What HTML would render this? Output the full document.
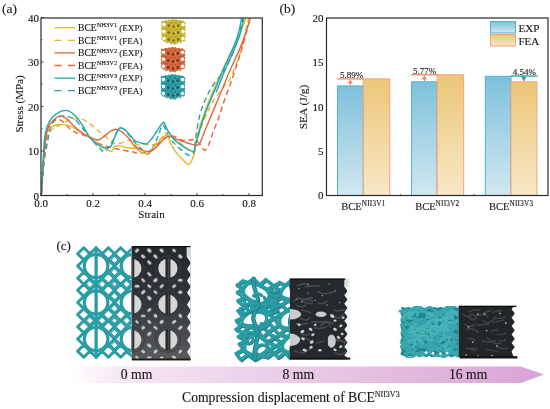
<!DOCTYPE html>
<html><head><meta charset="utf-8"><title>Figure</title>
<style>
html,body{margin:0;padding:0;background:#fff;}
body{width:550px;height:409px;overflow:hidden;}
svg{display:block}
text{font-family:"Liberation Serif", "DejaVu Serif", serif;fill:#161616;stroke:#161616;stroke-width:0.12px}
</style></head><body>
<svg width="550" height="409" viewBox="0 0 550 409">
<defs>
<linearGradient id="gexp" x1="0" y1="0" x2="0" y2="1"><stop offset="0" stop-color="#7ec0dc"/><stop offset="1" stop-color="#d2e8f1"/></linearGradient>
<linearGradient id="gfea" x1="0" y1="0" x2="0" y2="1"><stop offset="0" stop-color="#ecc678"/><stop offset="1" stop-color="#f8e8c8"/></linearGradient>
<linearGradient id="garrow" x1="0" y1="0" x2="1" y2="0"><stop offset="0" stop-color="#ffffff"/><stop offset="0.12" stop-color="#f6e6f3"/><stop offset="1" stop-color="#d9a3d6"/></linearGradient>
<clipPath id="clipA"><rect x="41.5" y="18" width="220.5" height="177.5"/></clipPath>
</defs>

<g id="panel-a">
<text x="2" y="13" font-size="13.5">(a)</text>
<g clip-path="url(#clipA)" fill="none" stroke-width="1.4" stroke-linejoin="round" stroke-linecap="butt">
<path d="M41.4,194.0C41.9,189.0 43.1,173.4 44.0,164.4C44.9,155.4 45.5,145.6 46.6,140.0C47.6,134.4 48.5,133.3 50.4,131.0C52.4,128.6 55.1,127.6 58.1,125.8C61.1,124.1 65.4,121.9 68.4,120.7C71.4,119.5 73.8,118.9 76.1,118.7C78.5,118.4 80.5,118.7 82.6,119.4C84.6,120.1 86.3,121.2 88.5,122.8C90.7,124.3 93.2,126.7 95.7,128.7C98.1,130.6 100.6,132.6 103.1,134.6C105.6,136.6 108.6,139.0 110.6,140.5C112.5,142.0 113.2,143.4 114.9,143.8C116.7,144.3 118.6,143.7 121.1,143.1C123.6,142.5 127.8,139.9 130.1,140.2C132.4,140.6 132.9,144.5 135.0,145.1C137.1,145.7 140.1,143.8 142.7,143.8C145.3,143.8 148.3,145.1 150.4,145.1C152.6,145.1 153.9,144.9 155.6,143.8C157.3,142.8 158.8,140.6 160.7,138.7C162.6,136.8 165.0,132.5 167.1,132.3C169.3,132.1 171.2,135.5 173.6,137.4C175.9,139.3 178.7,141.7 181.3,143.8C183.8,146.0 186.8,148.8 189.0,150.3C191.2,151.8 193.5,153.6 194.6,152.8C195.7,152.1 194.6,150.1 195.6,146.0C196.7,141.9 198.6,134.8 200.9,128.3C203.3,121.8 206.5,113.2 209.8,107.0C213.0,100.8 217.2,95.5 220.4,91.1C223.6,86.7 226.9,84.3 229.2,80.5C231.6,76.7 232.8,72.5 234.6,68.1C236.3,63.7 238.1,59.8 239.9,53.9C241.6,48.0 243.7,38.7 245.2,32.7C246.7,26.7 248.1,20.3 248.7,17.8" stroke="#e3b92a" stroke-dasharray="5.5 3.5"/>
<path d="M41.4,194.0C41.7,189.5 42.6,174.9 43.2,167.0C43.9,159.1 44.5,152.4 45.3,146.4C46.1,140.4 46.6,135.1 47.9,131.0C49.1,126.9 51.3,123.9 53.0,122.0C54.7,120.1 56.4,119.4 58.1,119.4C59.9,119.4 61.1,120.3 63.3,122.0C65.4,123.7 68.4,127.8 71.0,129.7C73.6,131.6 76.1,132.5 78.7,133.6C81.3,134.6 83.4,134.6 86.4,136.1C89.4,137.6 93.3,140.8 96.7,142.6C100.1,144.3 103.6,145.3 107.0,146.4C110.4,147.5 113.8,148.2 117.3,149.0C120.7,149.8 124.8,150.5 127.5,151.0C130.3,151.6 132.7,151.8 134.0,152.1C135.2,152.4 133.5,152.7 135.0,152.8C136.5,153.0 140.1,153.3 142.7,152.8C145.3,152.4 147.9,151.8 150.4,150.3C153.0,148.8 155.6,146.0 158.1,143.8C160.7,141.7 163.3,138.7 165.8,137.4C168.4,136.1 171.0,135.7 173.6,136.1C176.1,136.6 178.7,139.3 181.3,140.0C183.8,140.6 186.6,140.0 189.0,140.0C191.3,140.0 193.5,139.1 195.4,140.0C197.3,140.8 199.1,143.4 200.6,145.1C202.1,146.8 203.2,150.1 204.4,150.3C205.7,150.4 206.5,149.0 208.0,146.0C209.5,142.9 211.5,136.5 213.3,131.8C215.1,127.1 216.9,122.7 218.6,117.7C220.4,112.6 221.9,107.6 223.9,101.7C226.0,95.8 228.7,89.0 231.0,82.3C233.4,75.5 236.0,67.5 238.1,61.0C240.2,54.5 241.9,48.3 243.4,43.3C244.9,38.3 245.8,35.2 246.9,30.9C248.1,26.7 249.6,20.0 250.1,17.8" stroke="#e8643c" stroke-dasharray="5.5 3.5"/>
<path d="M41.4,194.0C41.9,188.6 42.9,170.8 44.0,161.8C45.1,152.8 46.8,145.6 47.9,140.0C48.9,134.4 49.4,131.6 50.4,128.4C51.5,125.2 52.8,122.6 54.3,120.7C55.8,118.8 57.7,117.6 59.4,116.9C61.1,116.1 62.0,115.7 64.6,116.1C67.1,116.5 71.8,117.4 74.8,119.4C77.8,121.5 80.6,126.1 82.6,128.4C84.5,130.8 84.7,131.4 86.4,133.6C88.1,135.7 90.7,138.9 92.8,141.3C95.0,143.6 97.3,145.9 99.3,147.7C101.2,149.5 102.9,152.1 104.4,152.1C105.9,152.1 107.0,149.3 108.3,147.7C109.6,146.1 110.6,145.3 112.1,142.6C113.6,139.8 115.5,133.3 117.3,131.0C119.0,128.6 120.5,127.8 122.4,128.4C124.3,129.1 126.9,132.7 128.8,134.8C130.8,137.0 132.9,140.0 134.0,141.3C135.0,142.6 133.5,141.1 135.0,142.6C136.5,144.1 140.6,148.3 142.7,150.3C144.9,152.2 146.1,154.6 147.9,154.1C149.6,153.7 151.3,150.7 153.0,147.7C154.7,144.7 156.6,139.8 158.1,136.1C159.6,132.5 160.9,127.3 162.0,125.8C163.1,124.3 163.5,125.4 164.6,127.1C165.6,128.8 166.9,133.6 168.4,136.1C169.9,138.7 171.8,140.6 173.6,142.6C175.3,144.5 176.6,145.8 178.7,147.7C180.8,149.6 184.3,152.8 186.4,154.1C188.6,155.4 190.3,155.5 191.6,155.4C192.8,155.3 193.4,156.4 194.1,153.6C194.8,150.9 194.8,144.9 195.6,138.9C196.5,132.9 197.7,123.8 199.2,117.7C200.6,111.5 202.4,106.7 204.5,101.7C206.5,96.7 208.9,92.0 211.5,87.6C214.2,83.1 217.7,79.0 220.4,75.2C223.1,71.3 225.2,68.7 227.5,64.6C229.7,60.4 232.0,55.1 233.8,50.4C235.7,45.7 237.3,41.5 238.8,36.2C240.3,30.9 242.1,21.5 242.7,18.5" stroke="#21a5ad" stroke-dasharray="5.5 3.5"/>
<path d="M41.4,194.0C41.6,190.3 42.3,179.2 42.7,172.1C43.1,165.1 43.6,157.6 44.0,151.6C44.4,145.6 44.4,140.0 45.3,136.1C46.1,132.3 47.4,130.2 49.1,128.4C50.9,126.6 53.2,126.0 55.6,125.3C57.9,124.7 60.7,124.4 63.3,124.6C65.8,124.7 68.4,125.3 71.0,126.4C73.6,127.4 76.1,129.4 78.7,131.0C81.3,132.5 83.8,133.9 86.4,135.6C89.0,137.3 91.6,139.5 94.1,141.3C96.7,143.1 99.5,144.9 101.8,146.4C104.2,147.9 106.6,149.5 108.3,150.3C110.0,151.0 111.0,151.7 112.1,151.0C113.2,150.4 113.4,147.3 114.7,146.4C116.0,145.6 117.7,145.7 119.8,145.9C122.0,146.1 125.2,147.3 127.5,147.7C129.9,148.1 132.7,148.5 134.0,148.5C135.2,148.5 133.5,147.0 135.0,147.7C136.5,148.4 140.4,152.0 142.7,152.8C145.1,153.7 147.2,153.9 149.1,152.8C151.1,151.8 152.6,148.3 154.3,146.4C156.0,144.5 157.5,143.2 159.4,141.3C161.3,139.3 164.3,135.5 165.8,134.8C167.3,134.2 167.3,135.5 168.4,137.4C169.5,139.3 170.8,143.6 172.3,146.4C173.8,149.2 175.5,151.8 177.4,154.1C179.3,156.5 181.9,158.8 183.8,160.6C185.8,162.3 187.3,165.4 189.0,164.4C190.7,163.5 192.4,159.7 193.8,154.8C195.3,150.0 195.9,141.5 197.4,135.4C198.9,129.2 200.3,124.4 202.7,117.7C205.1,110.9 208.6,101.7 211.5,94.6C214.5,87.6 217.4,81.7 220.4,75.2C223.3,68.7 226.3,61.9 229.2,55.7C232.2,49.5 235.3,44.3 238.1,38.0C240.9,31.7 244.6,21.2 245.9,17.8" stroke="#e3b92a"/>
<path d="M41.4,194.0C41.6,190.3 42.2,180.0 42.7,172.1C43.3,164.2 43.9,153.7 44.8,146.4C45.6,139.1 46.5,132.7 47.9,128.4C49.2,124.1 51.1,122.8 53.0,120.7C54.9,118.7 57.3,116.5 59.4,116.1C61.6,115.7 63.5,116.5 65.8,118.1C68.2,119.8 71.0,123.5 73.6,125.8C76.1,128.2 78.7,130.5 81.3,132.3C83.8,134.1 86.2,135.4 89.0,136.6C91.8,137.9 95.4,140.1 98.0,140.0C100.6,139.9 102.3,137.6 104.4,136.1C106.6,134.6 108.9,132.1 110.8,131.0C112.8,129.8 114.0,129.0 116.0,129.2C117.9,129.4 120.0,130.5 122.4,132.3C124.8,134.1 128.0,137.6 130.1,140.0C132.2,142.3 132.9,144.7 135.0,146.4C137.1,148.1 140.1,149.4 142.7,150.3C145.3,151.1 148.1,152.2 150.4,151.6C152.8,150.9 154.7,148.3 156.9,146.4C159.0,144.5 161.3,141.7 163.3,140.0C165.2,138.3 166.5,136.3 168.4,136.1C170.3,135.9 172.5,137.8 174.8,138.7C177.2,139.6 180.0,140.4 182.6,141.3C185.1,142.1 188.0,143.2 190.3,143.8C192.5,144.5 194.6,145.5 196.2,145.4C197.8,145.3 198.5,145.4 199.9,143.1C201.2,140.9 202.2,137.2 204.5,131.8C206.7,126.4 210.4,117.7 213.3,110.6C216.3,103.5 219.2,96.4 222.2,89.3C225.1,82.3 228.1,74.9 231.0,68.1C234.0,61.3 237.5,54.2 239.9,48.6C242.2,43.0 243.4,39.6 245.2,34.5C246.9,29.3 249.6,20.6 250.5,17.8" stroke="#e8643c"/>
<path d="M216.2,92.2C217.6,88.6 221.7,77.9 224.6,70.9C227.6,64.0 231.3,56.5 233.8,50.4C236.4,44.3 238.2,39.8 239.9,34.5C241.5,29.2 243.1,21.2 243.8,18.5" stroke="#21a5ad"/>
<path d="M41.4,194.0C41.6,190.3 42.3,180.0 42.7,172.1C43.1,164.2 43.6,152.8 44.0,146.4C44.4,140.0 44.4,137.6 45.3,133.6C46.1,129.5 47.4,125.2 49.1,122.0C50.9,118.8 52.8,116.2 55.6,114.3C58.4,112.4 62.8,110.4 65.8,110.4C68.8,110.4 71.0,112.1 73.6,114.3C76.1,116.4 78.7,119.6 81.3,123.3C83.8,126.9 86.4,132.7 89.0,136.1C91.6,139.6 94.1,141.9 96.7,143.8C99.3,145.8 102.1,147.3 104.4,147.7C106.8,148.1 109.1,148.1 110.8,146.4C112.5,144.7 113.2,140.5 114.7,137.4C116.2,134.3 117.9,129.0 119.8,127.9C121.8,126.8 123.9,129.0 126.3,131.0C128.6,133.0 131.7,138.1 134.0,140.0C136.3,141.9 138.0,141.9 140.1,142.6C142.2,143.2 144.6,144.5 146.6,143.8C148.5,143.2 150.0,140.8 151.7,138.7C153.4,136.6 155.4,133.2 156.9,131.0C158.4,128.8 159.7,126.7 160.7,125.3C161.7,124.0 162.2,123.2 162.8,122.8C163.3,122.3 163.5,121.8 164.0,122.5C164.6,123.2 165.2,125.3 166.1,127.1C167.0,129.0 168.2,131.4 169.7,133.6C171.2,135.7 172.9,138.1 174.8,140.0C176.8,141.9 179.1,143.6 181.3,145.1C183.4,146.6 185.8,147.9 187.7,149.0C189.6,150.1 191.8,151.2 192.8,151.6C193.9,151.9 192.8,154.6 193.8,151.3C194.9,148.0 197.1,138.6 199.2,131.8C201.2,125.0 203.6,117.7 206.2,110.6C208.9,103.5 212.1,96.4 215.1,89.3C218.0,82.3 221.0,74.9 223.9,68.1C226.9,61.3 230.4,54.2 232.8,48.6C235.1,43.0 236.6,39.5 238.1,34.5C239.6,29.5 241.0,21.2 241.6,18.5" stroke="#21a5ad"/>
</g>
<rect x="41" y="18" width="221.3" height="177.5" fill="none" stroke="#2a2a2a" stroke-width="1.2"/>
<line x1="41.0" y1="195.5" x2="41.0" y2="193" stroke="#222" stroke-width="0.8"/>
<text x="41.0" y="207" font-size="11" text-anchor="middle">0.0</text>
<line x1="93.0" y1="195.5" x2="93.0" y2="193" stroke="#222" stroke-width="0.8"/>
<text x="93.0" y="207" font-size="11" text-anchor="middle">0.2</text>
<line x1="145.0" y1="195.5" x2="145.0" y2="193" stroke="#222" stroke-width="0.8"/>
<text x="145.0" y="207" font-size="11" text-anchor="middle">0.4</text>
<line x1="197.0" y1="195.5" x2="197.0" y2="193" stroke="#222" stroke-width="0.8"/>
<text x="197.0" y="207" font-size="11" text-anchor="middle">0.6</text>
<line x1="249.0" y1="195.5" x2="249.0" y2="193" stroke="#222" stroke-width="0.8"/>
<text x="249.0" y="207" font-size="11" text-anchor="middle">0.8</text>
<line x1="67.0" y1="195.5" x2="67.0" y2="194" stroke="#222" stroke-width="0.7"/>
<line x1="119.0" y1="195.5" x2="119.0" y2="194" stroke="#222" stroke-width="0.7"/>
<line x1="171.0" y1="195.5" x2="171.0" y2="194" stroke="#222" stroke-width="0.7"/>
<line x1="223.0" y1="195.5" x2="223.0" y2="194" stroke="#222" stroke-width="0.7"/>
<line x1="41" y1="195.5" x2="43.5" y2="195.5" stroke="#222" stroke-width="0.8"/>
<text x="39" y="199.8" font-size="11" text-anchor="end">0</text>
<line x1="41" y1="151.0" x2="43.5" y2="151.0" stroke="#222" stroke-width="0.8"/>
<text x="39" y="155.3" font-size="11" text-anchor="end">10</text>
<line x1="41" y1="106.5" x2="43.5" y2="106.5" stroke="#222" stroke-width="0.8"/>
<text x="39" y="110.8" font-size="11" text-anchor="end">20</text>
<line x1="41" y1="62.0" x2="43.5" y2="62.0" stroke="#222" stroke-width="0.8"/>
<text x="39" y="66.3" font-size="11" text-anchor="end">30</text>
<line x1="41" y1="17.5" x2="43.5" y2="17.5" stroke="#222" stroke-width="0.8"/>
<text x="39" y="21.8" font-size="11" text-anchor="end">40</text>
<line x1="41" y1="173.2" x2="42.5" y2="173.2" stroke="#222" stroke-width="0.7"/>
<line x1="41" y1="128.8" x2="42.5" y2="128.8" stroke="#222" stroke-width="0.7"/>
<line x1="41" y1="84.2" x2="42.5" y2="84.2" stroke="#222" stroke-width="0.7"/>
<line x1="41" y1="39.8" x2="42.5" y2="39.8" stroke="#222" stroke-width="0.7"/>
<text x="151.5" y="218" font-size="11" text-anchor="middle">Strain</text>
<text transform="translate(23.4,104) rotate(-90)" font-size="11" text-anchor="middle">Stress (MPa)</text>
<line x1="54.5" y1="27.7" x2="75" y2="27.7" stroke="#e3b92a" stroke-width="1.3"/>
<text x="78" y="30.9" font-size="9.6">BCE<tspan font-size="6.5" dy="-3.6">NH3V1</tspan><tspan font-size="9.1" dy="3.6" dx="-0.3"> (EXP)</tspan></text>
<line x1="54.5" y1="40.3" x2="75" y2="40.3" stroke="#e3b92a" stroke-width="1.3" stroke-dasharray="7 6.5"/>
<text x="78" y="43.5" font-size="9.6">BCE<tspan font-size="6.5" dy="-3.6">NH3V1</tspan><tspan font-size="9.1" dy="3.6" dx="-0.3"> (FEA)</tspan></text>
<line x1="54.5" y1="52.9" x2="75" y2="52.9" stroke="#e8643c" stroke-width="1.3"/>
<text x="78" y="56.1" font-size="9.6">BCE<tspan font-size="6.5" dy="-3.6">NH3V2</tspan><tspan font-size="9.1" dy="3.6" dx="-0.3"> (EXP)</tspan></text>
<line x1="54.5" y1="65.5" x2="75" y2="65.5" stroke="#e8643c" stroke-width="1.3" stroke-dasharray="7 6.5"/>
<text x="78" y="68.7" font-size="9.6">BCE<tspan font-size="6.5" dy="-3.6">NH3V2</tspan><tspan font-size="9.1" dy="3.6" dx="-0.3"> (FEA)</tspan></text>
<line x1="54.5" y1="78.1" x2="75" y2="78.1" stroke="#21a5ad" stroke-width="1.3"/>
<text x="78" y="81.3" font-size="9.6">BCE<tspan font-size="6.5" dy="-3.6">NH3V3</tspan><tspan font-size="9.1" dy="3.6" dx="-0.3"> (EXP)</tspan></text>
<line x1="54.5" y1="90.7" x2="75" y2="90.7" stroke="#21a5ad" stroke-width="1.3" stroke-dasharray="7 6.5"/>
<text x="78" y="93.9" font-size="9.6">BCE<tspan font-size="6.5" dy="-3.6">NH3V3</tspan><tspan font-size="9.1" dy="3.6" dx="-0.3"> (FEA)</tspan></text>
<path d="M162.5,22.0 L173.5,20.2 L184.5,22.0 L184.5,40.0 L173.5,43.4 L162.5,40.0 Z" fill="#c9b535" stroke="#c9b535" stroke-width="1" stroke-linejoin="round"/><path d="M162.5,22.0 L173.5,20.2 L184.5,22.0 L184.5,40.0 L173.5,43.4 L162.5,40.0 Z" fill="none" stroke="#c9b535" stroke-width="2.6" stroke-linecap="round" stroke-dasharray="0.1 3.3"/><circle cx="164.0" cy="24.4" r="1.75" fill="#fff"/><circle cx="164.0" cy="31.4" r="1.75" fill="#fff"/><circle cx="164.0" cy="38.4" r="1.75" fill="#fff"/><circle cx="168.7" cy="25.6" r="1.45" fill="#7d6f1c"/><circle cx="168.7" cy="32.6" r="1.45" fill="#7d6f1c"/><circle cx="168.7" cy="39.6" r="1.45" fill="#7d6f1c"/><circle cx="173.5" cy="26.6" r="1.30" fill="#7d6f1c"/><circle cx="173.5" cy="33.6" r="1.30" fill="#7d6f1c"/><circle cx="173.5" cy="40.6" r="1.30" fill="#7d6f1c"/><circle cx="178.3" cy="25.6" r="1.45" fill="#7d6f1c"/><circle cx="178.3" cy="32.6" r="1.45" fill="#7d6f1c"/><circle cx="178.3" cy="39.6" r="1.45" fill="#7d6f1c"/><circle cx="183.0" cy="24.4" r="1.75" fill="#fff"/><circle cx="183.0" cy="31.4" r="1.75" fill="#fff"/><circle cx="183.0" cy="38.4" r="1.75" fill="#fff"/><circle cx="166.3" cy="21.8" r="0.55" fill="#7d6f1c"/><circle cx="166.3" cy="28.8" r="0.55" fill="#7d6f1c"/><circle cx="166.3" cy="35.8" r="0.55" fill="#7d6f1c"/><circle cx="166.3" cy="42.8" r="0.55" fill="#7d6f1c"/><circle cx="171.1" cy="22.9" r="0.55" fill="#7d6f1c"/><circle cx="171.1" cy="29.9" r="0.55" fill="#7d6f1c"/><circle cx="171.1" cy="36.9" r="0.55" fill="#7d6f1c"/><circle cx="171.1" cy="43.9" r="0.55" fill="#7d6f1c"/><circle cx="175.9" cy="22.9" r="0.55" fill="#7d6f1c"/><circle cx="175.9" cy="29.9" r="0.55" fill="#7d6f1c"/><circle cx="175.9" cy="36.9" r="0.55" fill="#7d6f1c"/><circle cx="175.9" cy="43.9" r="0.55" fill="#7d6f1c"/><circle cx="180.7" cy="21.8" r="0.55" fill="#7d6f1c"/><circle cx="180.7" cy="28.8" r="0.55" fill="#7d6f1c"/><circle cx="180.7" cy="35.8" r="0.55" fill="#7d6f1c"/><circle cx="180.7" cy="42.8" r="0.55" fill="#7d6f1c"/><line x1="166.3" y1="22.3" x2="166.3" y2="40.8" stroke="#d9c95a" stroke-width="0.6" stroke-dasharray="3.4 3.6" stroke-dashoffset="-2"/><line x1="171.1" y1="22.3" x2="171.1" y2="40.8" stroke="#d9c95a" stroke-width="0.6" stroke-dasharray="3.4 3.6" stroke-dashoffset="-2"/><line x1="175.9" y1="22.3" x2="175.9" y2="40.8" stroke="#d9c95a" stroke-width="0.6" stroke-dasharray="3.4 3.6" stroke-dashoffset="-2"/><line x1="180.7" y1="22.3" x2="180.7" y2="40.8" stroke="#d9c95a" stroke-width="0.6" stroke-dasharray="3.4 3.6" stroke-dashoffset="-2"/>
<path d="M162.0,49.8 L173.0,48.0 L184.0,49.8 L184.0,67.8 L173.0,71.2 L162.0,67.8 Z" fill="#d2673f" stroke="#d2673f" stroke-width="1" stroke-linejoin="round"/><path d="M162.0,49.8 L173.0,48.0 L184.0,49.8 L184.0,67.8 L173.0,71.2 L162.0,67.8 Z" fill="none" stroke="#d2673f" stroke-width="2.6" stroke-linecap="round" stroke-dasharray="0.1 3.3"/><circle cx="163.5" cy="52.2" r="1.75" fill="#fff"/><circle cx="163.5" cy="59.2" r="1.75" fill="#fff"/><circle cx="163.5" cy="66.2" r="1.75" fill="#fff"/><circle cx="168.2" cy="53.4" r="1.45" fill="#7e3218"/><circle cx="168.2" cy="60.4" r="1.45" fill="#7e3218"/><circle cx="168.2" cy="67.4" r="1.45" fill="#7e3218"/><circle cx="173.0" cy="54.4" r="1.30" fill="#7e3218"/><circle cx="173.0" cy="61.4" r="1.30" fill="#7e3218"/><circle cx="173.0" cy="68.4" r="1.30" fill="#7e3218"/><circle cx="177.8" cy="53.4" r="1.45" fill="#7e3218"/><circle cx="177.8" cy="60.4" r="1.45" fill="#7e3218"/><circle cx="177.8" cy="67.4" r="1.45" fill="#7e3218"/><circle cx="182.5" cy="52.2" r="1.75" fill="#fff"/><circle cx="182.5" cy="59.2" r="1.75" fill="#fff"/><circle cx="182.5" cy="66.2" r="1.75" fill="#fff"/><circle cx="165.8" cy="49.6" r="0.55" fill="#7e3218"/><circle cx="165.8" cy="56.6" r="0.55" fill="#7e3218"/><circle cx="165.8" cy="63.6" r="0.55" fill="#7e3218"/><circle cx="165.8" cy="70.6" r="0.55" fill="#7e3218"/><circle cx="170.6" cy="50.7" r="0.55" fill="#7e3218"/><circle cx="170.6" cy="57.7" r="0.55" fill="#7e3218"/><circle cx="170.6" cy="64.7" r="0.55" fill="#7e3218"/><circle cx="170.6" cy="71.7" r="0.55" fill="#7e3218"/><circle cx="175.4" cy="50.7" r="0.55" fill="#7e3218"/><circle cx="175.4" cy="57.7" r="0.55" fill="#7e3218"/><circle cx="175.4" cy="64.7" r="0.55" fill="#7e3218"/><circle cx="175.4" cy="71.7" r="0.55" fill="#7e3218"/><circle cx="180.2" cy="49.6" r="0.55" fill="#7e3218"/><circle cx="180.2" cy="56.6" r="0.55" fill="#7e3218"/><circle cx="180.2" cy="63.6" r="0.55" fill="#7e3218"/><circle cx="180.2" cy="70.6" r="0.55" fill="#7e3218"/><line x1="165.8" y1="50.1" x2="165.8" y2="68.6" stroke="#e08a66" stroke-width="0.6" stroke-dasharray="3.4 3.6" stroke-dashoffset="-2"/><line x1="170.6" y1="50.1" x2="170.6" y2="68.6" stroke="#e08a66" stroke-width="0.6" stroke-dasharray="3.4 3.6" stroke-dashoffset="-2"/><line x1="175.4" y1="50.1" x2="175.4" y2="68.6" stroke="#e08a66" stroke-width="0.6" stroke-dasharray="3.4 3.6" stroke-dashoffset="-2"/><line x1="180.2" y1="50.1" x2="180.2" y2="68.6" stroke="#e08a66" stroke-width="0.6" stroke-dasharray="3.4 3.6" stroke-dashoffset="-2"/>
<path d="M162.0,77.0 L173.0,75.2 L184.0,77.0 L184.0,95.0 L173.0,98.4 L162.0,95.0 Z" fill="#2e9ca3" stroke="#2e9ca3" stroke-width="1" stroke-linejoin="round"/><path d="M162.0,77.0 L173.0,75.2 L184.0,77.0 L184.0,95.0 L173.0,98.4 L162.0,95.0 Z" fill="none" stroke="#2e9ca3" stroke-width="2.6" stroke-linecap="round" stroke-dasharray="0.1 3.3"/><circle cx="163.5" cy="79.4" r="1.75" fill="#fff"/><circle cx="163.5" cy="86.4" r="1.75" fill="#fff"/><circle cx="163.5" cy="93.4" r="1.75" fill="#fff"/><circle cx="168.2" cy="80.6" r="1.45" fill="#145a60"/><circle cx="168.2" cy="87.6" r="1.45" fill="#145a60"/><circle cx="168.2" cy="94.6" r="1.45" fill="#145a60"/><circle cx="173.0" cy="81.6" r="1.30" fill="#145a60"/><circle cx="173.0" cy="88.6" r="1.30" fill="#145a60"/><circle cx="173.0" cy="95.6" r="1.30" fill="#145a60"/><circle cx="177.8" cy="80.6" r="1.45" fill="#145a60"/><circle cx="177.8" cy="87.6" r="1.45" fill="#145a60"/><circle cx="177.8" cy="94.6" r="1.45" fill="#145a60"/><circle cx="182.5" cy="79.4" r="1.75" fill="#fff"/><circle cx="182.5" cy="86.4" r="1.75" fill="#fff"/><circle cx="182.5" cy="93.4" r="1.75" fill="#fff"/><circle cx="165.8" cy="76.8" r="0.55" fill="#145a60"/><circle cx="165.8" cy="83.8" r="0.55" fill="#145a60"/><circle cx="165.8" cy="90.8" r="0.55" fill="#145a60"/><circle cx="165.8" cy="97.8" r="0.55" fill="#145a60"/><circle cx="170.6" cy="77.9" r="0.55" fill="#145a60"/><circle cx="170.6" cy="84.9" r="0.55" fill="#145a60"/><circle cx="170.6" cy="91.9" r="0.55" fill="#145a60"/><circle cx="170.6" cy="98.9" r="0.55" fill="#145a60"/><circle cx="175.4" cy="77.9" r="0.55" fill="#145a60"/><circle cx="175.4" cy="84.9" r="0.55" fill="#145a60"/><circle cx="175.4" cy="91.9" r="0.55" fill="#145a60"/><circle cx="175.4" cy="98.9" r="0.55" fill="#145a60"/><circle cx="180.2" cy="76.8" r="0.55" fill="#145a60"/><circle cx="180.2" cy="83.8" r="0.55" fill="#145a60"/><circle cx="180.2" cy="90.8" r="0.55" fill="#145a60"/><circle cx="180.2" cy="97.8" r="0.55" fill="#145a60"/><line x1="165.8" y1="77.3" x2="165.8" y2="95.8" stroke="#56b6bc" stroke-width="0.6" stroke-dasharray="3.4 3.6" stroke-dashoffset="-2"/><line x1="170.6" y1="77.3" x2="170.6" y2="95.8" stroke="#56b6bc" stroke-width="0.6" stroke-dasharray="3.4 3.6" stroke-dashoffset="-2"/><line x1="175.4" y1="77.3" x2="175.4" y2="95.8" stroke="#56b6bc" stroke-width="0.6" stroke-dasharray="3.4 3.6" stroke-dashoffset="-2"/><line x1="180.2" y1="77.3" x2="180.2" y2="95.8" stroke="#56b6bc" stroke-width="0.6" stroke-dasharray="3.4 3.6" stroke-dashoffset="-2"/>
</g>
<g id="panel-b">
<text x="279.5" y="13" font-size="13.5">(b)</text>
<rect x="337.5" y="85.9" width="25.8" height="109.6" fill="url(#gexp)" stroke="#4fb5c6" stroke-width="1"/>
<rect x="363.3" y="78.9" width="26.5" height="116.6" fill="url(#gfea)" stroke="#f4a27e" stroke-width="1"/>
<rect x="411.6" y="81.8" width="25.5" height="113.7" fill="url(#gexp)" stroke="#4fb5c6" stroke-width="1"/>
<rect x="437.1" y="74.8" width="26.6" height="120.7" fill="url(#gfea)" stroke="#f4a27e" stroke-width="1"/>
<rect x="485.3" y="76.3" width="25.7" height="119.2" fill="url(#gexp)" stroke="#4fb5c6" stroke-width="1"/>
<rect x="511.0" y="81.8" width="25.9" height="113.7" fill="url(#gfea)" stroke="#f4a27e" stroke-width="1"/>
<line x1="337" y1="78.9" x2="364" y2="78.9" stroke="#f08a5d" stroke-width="1.3"/>
<path d="M350.3,79.6 L347.6,83.6 L349.7,83.6 L349.7,85.6 L350.9,85.6 L350.9,83.6 L353,83.6 Z" fill="#f08a5d"/>
<text x="351.5" y="77.6" font-size="9" text-anchor="middle">5.89%</text>
<line x1="411" y1="74.8" x2="438" y2="74.8" stroke="#f08a5d" stroke-width="1.3"/>
<path d="M424.4,75.5 L421.7,79.5 L423.8,79.5 L423.8,81.5 L425,81.5 L425,79.5 L427.1,79.5 Z" fill="#f08a5d"/>
<text x="424.7" y="73.5" font-size="9" text-anchor="middle">5.77%</text>
<line x1="511" y1="76" x2="537.5" y2="76" stroke="#2f9fae" stroke-width="1.4"/>
<path d="M523.8,81.4 L521,76.6 L526.6,76.6 Z" fill="#2f9fae"/>
<text x="524.3" y="74.6" font-size="9" text-anchor="middle">4.54%</text>
<rect x="326.5" y="18" width="221.5" height="177.5" fill="none" stroke="#2a2a2a" stroke-width="1.2"/>
<text x="323.5" y="199.4" font-size="11" text-anchor="end">0</text>
<text x="323.5" y="155.0" font-size="11" text-anchor="end">5</text>
<text x="323.5" y="110.6" font-size="11" text-anchor="end">10</text>
<text x="323.5" y="66.2" font-size="11" text-anchor="end">15</text>
<text x="323.5" y="21.8" font-size="11" text-anchor="end">20</text>
<line x1="400.4" y1="195.5" x2="400.4" y2="194" stroke="#222" stroke-width="0.7"/>
<line x1="474.2" y1="195.5" x2="474.2" y2="194" stroke="#222" stroke-width="0.7"/>
<text transform="translate(307.2,107) rotate(-90)" font-size="11.4" text-anchor="middle">SEA (J/g)</text>
<text x="363.5" y="210.3" font-size="10.5" text-anchor="middle">BCE<tspan font-size="7.2" dy="-4.6" letter-spacing="0.25">NII3V1</tspan></text>
<text x="437.3" y="210.3" font-size="10.5" text-anchor="middle">BCE<tspan font-size="7.2" dy="-4.6" letter-spacing="0.25">NII3V2</tspan></text>
<text x="511.2" y="210.3" font-size="10.5" text-anchor="middle">BCE<tspan font-size="7.2" dy="-4.6" letter-spacing="0.25">NII3V3</tspan></text>
<rect x="490.5" y="21.5" width="25" height="11.5" fill="url(#gexp)" stroke="#4fb5c6" stroke-width="1"/>
<rect x="490.5" y="34.5" width="25" height="11.5" fill="url(#gfea)" stroke="#f4a27e" stroke-width="1"/>
<text x="518.5" y="31.8" font-size="11">EXP</text>
<text x="518.5" y="44.8" font-size="11">FEA</text>
</g>
<g id="panel-c">
<text x="56.5" y="250" font-size="13">(c)</text>
<path d="M68,366.5 L521,366.5 L544,374.6 L521,383 L68,383 Z" fill="url(#garrow)"/>
<text x="136.5" y="378.6" font-size="13.7" text-anchor="middle">0 mm</text>
<text x="298.3" y="378.6" font-size="13.7" text-anchor="middle">8 mm</text>
<text x="468.2" y="378.6" font-size="13.7" text-anchor="middle">16 mm</text>
<text x="182" y="401.8" font-size="13.7">Compression displacement of BCE<tspan font-size="8" dy="-4.5">NII3V3</tspan></text>
<filter id="soft" x="-5%" y="-5%" width="110%" height="110%"><feGaussianBlur stdDeviation="0.45"/></filter>
<g id="lat0" filter="url(#soft)">
<clipPath id="c0"><rect x="70" y="240" width="61.6" height="125"/></clipPath>
<g clip-path="url(#c0)" fill="none" stroke="#2b9da4" stroke-width="2.9" stroke-linecap="round" stroke-linejoin="round">
<path d="M77.6,253.8 L83.8,247.8M77.6,253.8 L83.8,259.9M77.6,266.0 L83.8,259.9M77.6,266.0 L83.8,272.1M77.6,278.2 L83.8,272.1M77.6,278.2 L83.8,284.2M77.6,290.3 L83.8,284.2M77.6,290.3 L83.8,296.4M77.6,302.5 L83.8,296.4M77.6,302.5 L83.8,308.6M77.6,314.6 L83.8,308.6M77.6,314.6 L83.8,320.7M77.6,326.8 L83.8,320.7M77.6,326.8 L83.8,332.9M77.6,339.0 L83.8,332.9M77.6,339.0 L83.8,345.0M77.6,351.1 L83.8,345.0M77.6,351.1 L83.8,357.2M83.8,247.8 L89.9,253.8M83.8,259.9 L89.9,253.8M83.8,259.9 L89.9,266.0M83.8,272.1 L89.9,266.0M83.8,272.1 L89.9,278.2M83.8,284.2 L89.9,278.2M83.8,284.2 L89.9,290.3M83.8,296.4 L89.9,290.3M83.8,296.4 L89.9,302.5M83.8,308.6 L89.9,302.5M83.8,308.6 L89.9,314.6M83.8,320.7 L89.9,314.6M83.8,320.7 L89.9,326.8M83.8,332.9 L89.9,326.8M83.8,332.9 L89.9,339.0M83.8,345.0 L89.9,339.0M83.8,345.0 L89.9,351.1M83.8,357.2 L89.9,351.1M89.9,253.8 L96.1,247.8M89.9,253.8 L96.1,259.9M89.9,278.2 L96.1,272.1M89.9,278.2 L96.1,284.2M89.9,290.3 L96.1,284.2M89.9,290.3 L96.1,296.4M89.9,314.6 L96.1,308.6M89.9,314.6 L96.1,320.7M89.9,326.8 L96.1,320.7M89.9,326.8 L96.1,332.9M89.9,351.1 L96.1,345.0M89.9,351.1 L96.1,357.2M96.1,247.8 L102.2,253.8M96.1,259.9 L102.2,253.8M96.1,272.1 L102.2,278.2M96.1,284.2 L102.2,278.2M96.1,284.2 L102.2,290.3M96.1,296.4 L102.2,290.3M96.1,308.6 L102.2,314.6M96.1,320.7 L102.2,314.6M96.1,320.7 L102.2,326.8M96.1,332.9 L102.2,326.8M96.1,345.0 L102.2,351.1M96.1,357.2 L102.2,351.1M102.2,253.8 L108.4,247.8M102.2,253.8 L108.4,259.9M102.2,266.0 L108.4,259.9M102.2,266.0 L108.4,272.1M102.2,278.2 L108.4,272.1M102.2,278.2 L108.4,284.2M102.2,290.3 L108.4,284.2M102.2,290.3 L108.4,296.4M102.2,302.5 L108.4,296.4M102.2,302.5 L108.4,308.6M102.2,314.6 L108.4,308.6M102.2,314.6 L108.4,320.7M102.2,326.8 L108.4,320.7M102.2,326.8 L108.4,332.9M102.2,339.0 L108.4,332.9M102.2,339.0 L108.4,345.0M102.2,351.1 L108.4,345.0M102.2,351.1 L108.4,357.2M108.4,247.8 L114.5,253.8M108.4,259.9 L114.5,253.8M108.4,259.9 L114.5,266.0M108.4,272.1 L114.5,266.0M108.4,272.1 L114.5,278.2M108.4,284.2 L114.5,278.2M108.4,284.2 L114.5,290.3M108.4,296.4 L114.5,290.3M108.4,296.4 L114.5,302.5M108.4,308.6 L114.5,302.5M108.4,308.6 L114.5,314.6M108.4,320.7 L114.5,314.6M108.4,320.7 L114.5,326.8M108.4,332.9 L114.5,326.8M108.4,332.9 L114.5,339.0M108.4,345.0 L114.5,339.0M108.4,345.0 L114.5,351.1M108.4,357.2 L114.5,351.1M114.5,253.8 L120.7,247.8M114.5,253.8 L120.7,259.9M114.5,266.0 L120.7,259.9M114.5,266.0 L120.7,272.1M114.5,278.2 L120.7,272.1M114.5,278.2 L120.7,284.2M114.5,290.3 L120.7,284.2M114.5,290.3 L120.7,296.4M114.5,302.5 L120.7,296.4M114.5,302.5 L120.7,308.6M114.5,314.6 L120.7,308.6M114.5,314.6 L120.7,320.7M114.5,326.8 L120.7,320.7M114.5,326.8 L120.7,332.9M114.5,339.0 L120.7,332.9M114.5,339.0 L120.7,345.0M114.5,351.1 L120.7,345.0M114.5,351.1 L120.7,357.2M120.7,247.8 L126.8,253.8M120.7,259.9 L126.8,253.8M120.7,259.9 L126.8,266.0M120.7,272.1 L126.8,266.0M120.7,272.1 L126.8,278.2M120.7,284.2 L126.8,278.2M120.7,284.2 L126.8,290.3M120.7,296.4 L126.8,290.3M120.7,296.4 L126.8,302.5M120.7,308.6 L126.8,302.5M120.7,308.6 L126.8,314.6M120.7,320.7 L126.8,314.6M120.7,320.7 L126.8,326.8M120.7,332.9 L126.8,326.8M120.7,332.9 L126.8,339.0M120.7,345.0 L126.8,339.0M120.7,345.0 L126.8,351.1M120.7,357.2 L126.8,351.1M126.8,253.8 L133.0,247.8M126.8,253.8 L133.0,259.9M126.8,278.2 L133.0,272.1M126.8,278.2 L133.0,284.2M126.8,290.3 L133.0,284.2M126.8,290.3 L133.0,296.4M126.8,314.6 L133.0,308.6M126.8,314.6 L133.0,320.7M126.8,326.8 L133.0,320.7M126.8,326.8 L133.0,332.9M126.8,351.1 L133.0,345.0M126.8,351.1 L133.0,357.2"/>
<path d="M89.9,279.9 L94.2,284.2 L89.9,288.5 L85.6,284.2 ZM89.9,316.4 L94.2,320.7 L89.9,325.0 L85.6,320.7 ZM102.2,279.9 L106.5,284.2 L102.2,288.5 L98.0,284.2 ZM102.2,316.4 L106.5,320.7 L102.2,325.0 L98.0,320.7 ZM114.5,255.6 L118.8,259.9 L114.5,264.2 L110.2,259.9 ZM114.5,267.8 L118.8,272.1 L114.5,276.4 L110.2,272.1 ZM114.5,279.9 L118.8,284.2 L114.5,288.5 L110.2,284.2 ZM114.5,292.1 L118.8,296.4 L114.5,300.7 L110.2,296.4 ZM114.5,304.3 L118.8,308.6 L114.5,312.9 L110.2,308.6 ZM114.5,316.4 L118.8,320.7 L114.5,325.0 L110.2,320.7 ZM114.5,328.6 L118.8,332.9 L114.5,337.2 L110.2,332.9 ZM114.5,340.7 L118.8,345.0 L114.5,349.3 L110.2,345.0 ZM126.8,279.9 L131.2,284.2 L126.8,288.5 L122.5,284.2 ZM126.8,316.4 L131.2,320.7 L126.8,325.0 L122.5,320.7 Z" fill="#2b9da4" stroke="none"/>
<path d="M89.9,281.8 L92.3,284.2 L89.9,286.6 L87.5,284.2 ZM89.9,318.3 L92.3,320.7 L89.9,323.1 L87.5,320.7 ZM102.2,281.8 L104.7,284.2 L102.2,286.6 L99.8,284.2 ZM102.2,318.3 L104.7,320.7 L102.2,323.1 L99.8,320.7 ZM114.5,257.5 L117.0,259.9 L114.5,262.3 L112.1,259.9 ZM114.5,269.7 L117.0,272.1 L114.5,274.5 L112.1,272.1 ZM114.5,282.6 L116.1,284.2 L114.5,285.8 L113.0,284.2 ZM114.5,294.0 L117.0,296.4 L114.5,298.8 L112.1,296.4 ZM114.5,306.2 L117.0,308.6 L114.5,311.0 L112.1,308.6 ZM114.5,319.1 L116.1,320.7 L114.5,322.3 L113.0,320.7 ZM114.5,330.5 L117.0,332.9 L114.5,335.3 L112.1,332.9 ZM114.5,342.6 L117.0,345.0 L114.5,347.4 L112.1,345.0 ZM126.8,281.8 L129.2,284.2 L126.8,286.6 L124.4,284.2 ZM126.8,318.3 L129.2,320.7 L126.8,323.1 L124.4,320.7 Z" fill="#fff" stroke="#fff" stroke-width="0.8"/>
<path d="M107.9,266.0 L107.7,268.3 L107.0,270.5 L105.9,272.5 L104.4,274.2 L102.7,275.7 L100.6,276.8 L98.4,277.4 L96.1,277.7 L93.8,277.4 L91.6,276.8 L89.5,275.7 L87.8,274.2 L86.3,272.5 L85.2,270.5 L84.5,268.3 L84.3,266.0 L84.5,263.7 L85.2,261.5 L86.3,259.5 L87.8,257.8 L89.5,256.3 L91.6,255.2 L93.8,254.6 L96.1,254.3 L98.4,254.6 L100.6,255.2 L102.7,256.3 L104.4,257.8 L105.9,259.5 L107.0,261.5 L107.7,263.7 L107.9,266.0M107.9,302.5 L107.7,304.8 L107.0,306.9 L105.9,309.0 L104.4,310.7 L102.7,312.2 L100.6,313.3 L98.4,313.9 L96.1,314.1 L93.8,313.9 L91.6,313.3 L89.5,312.2 L87.8,310.7 L86.3,309.0 L85.2,306.9 L84.5,304.8 L84.3,302.5 L84.5,300.2 L85.2,298.0 L86.3,296.0 L87.8,294.2 L89.5,292.8 L91.6,291.7 L93.8,291.0 L96.1,290.8 L98.4,291.0 L100.6,291.7 L102.7,292.8 L104.4,294.2 L105.9,296.0 L107.0,298.0 L107.7,300.2 L107.9,302.5M107.9,339.0 L107.7,341.2 L107.0,343.4 L105.9,345.4 L104.4,347.2 L102.7,348.7 L100.6,349.7 L98.4,350.4 L96.1,350.6 L93.8,350.4 L91.6,349.7 L89.5,348.7 L87.8,347.2 L86.3,345.4 L85.2,343.4 L84.5,341.2 L84.3,339.0 L84.5,336.7 L85.2,334.5 L86.3,332.5 L87.8,330.7 L89.5,329.3 L91.6,328.2 L93.8,327.5 L96.1,327.3 L98.4,327.5 L100.6,328.2 L102.7,329.3 L104.4,330.7 L105.9,332.5 L107.0,334.5 L107.7,336.7 L107.9,339.0M144.8,266.0 L144.6,268.3 L143.9,270.5 L142.8,272.5 L141.3,274.2 L139.6,275.7 L137.5,276.8 L135.3,277.4 L133.0,277.7 L130.7,277.4 L128.5,276.8 L126.4,275.7 L124.7,274.2 L123.2,272.5 L122.1,270.5 L121.4,268.3 L121.2,266.0 L121.4,263.7 L122.1,261.5 L123.2,259.5 L124.7,257.8 L126.4,256.3 L128.5,255.2 L130.7,254.6 L133.0,254.3 L135.3,254.6 L137.5,255.2 L139.6,256.3 L141.3,257.8 L142.8,259.5 L143.9,261.5 L144.6,263.7 L144.8,266.0M144.8,302.5 L144.6,304.8 L143.9,306.9 L142.8,309.0 L141.3,310.7 L139.6,312.2 L137.5,313.3 L135.3,313.9 L133.0,314.1 L130.7,313.9 L128.5,313.3 L126.4,312.2 L124.7,310.7 L123.2,309.0 L122.1,306.9 L121.4,304.8 L121.2,302.5 L121.4,300.2 L122.1,298.0 L123.2,296.0 L124.7,294.2 L126.4,292.8 L128.5,291.7 L130.7,291.0 L133.0,290.8 L135.3,291.0 L137.5,291.7 L139.6,292.8 L141.3,294.2 L142.8,296.0 L143.9,298.0 L144.6,300.2 L144.8,302.5M144.8,339.0 L144.6,341.2 L143.9,343.4 L142.8,345.4 L141.3,347.2 L139.6,348.7 L137.5,349.7 L135.3,350.4 L133.0,350.6 L130.7,350.4 L128.5,349.7 L126.4,348.7 L124.7,347.2 L123.2,345.4 L122.1,343.4 L121.4,341.2 L121.2,339.0 L121.4,336.7 L122.1,334.5 L123.2,332.5 L124.7,330.7 L126.4,329.3 L128.5,328.2 L130.7,327.5 L133.0,327.3 L135.3,327.5 L137.5,328.2 L139.6,329.3 L141.3,330.7 L142.8,332.5 L143.9,334.5 L144.6,336.7 L144.8,339.0" fill="#fff" stroke-width="3.2"/>
<path d="M96.1,247.8 L96.1,250.5 L96.1,253.2 L96.1,256.0 L96.1,258.7 L96.1,261.4 L96.1,264.2 L96.1,266.9 L96.1,269.6 L96.1,272.4 L96.1,275.1 L96.1,277.9 L96.1,280.6 L96.1,283.3 L96.1,286.1 L96.1,288.8 L96.1,291.5 L96.1,294.3 L96.1,297.0 L96.1,299.7 L96.1,302.5 L96.1,305.2 L96.1,308.0 L96.1,310.7 L96.1,313.4 L96.1,316.2 L96.1,318.9 L96.1,321.6 L96.1,324.4 L96.1,327.1 L96.1,329.8 L96.1,332.6 L96.1,335.3 L96.1,338.0 L96.1,340.8 L96.1,343.5 L96.1,346.3 L96.1,349.0 L96.1,351.7 L96.1,354.5 L96.1,357.2M133.0,247.8 L133.0,250.5 L133.0,253.2 L133.0,256.0 L133.0,258.7 L133.0,261.4 L133.0,264.2 L133.0,266.9 L133.0,269.6 L133.0,272.4 L133.0,275.1 L133.0,277.9 L133.0,280.6 L133.0,283.3 L133.0,286.1 L133.0,288.8 L133.0,291.5 L133.0,294.3 L133.0,297.0 L133.0,299.7 L133.0,302.5 L133.0,305.2 L133.0,308.0 L133.0,310.7 L133.0,313.4 L133.0,316.2 L133.0,318.9 L133.0,321.6 L133.0,324.4 L133.0,327.1 L133.0,329.8 L133.0,332.6 L133.0,335.3 L133.0,338.0 L133.0,340.8 L133.0,343.5 L133.0,346.3 L133.0,349.0 L133.0,351.7 L133.0,354.5 L133.0,357.2" stroke-width="3.3"/>
</g>
<clipPath id="cd0"><rect x="131.6" y="246.0" width="59.1" height="114.6"/></clipPath>
<g clip-path="url(#cd0)">
<linearGradient id="gd0" x1="0" y1="0" x2="0" y2="1"><stop offset="0" stop-color="#24282b"/><stop offset="0.5" stop-color="#33363a"/><stop offset="1" stop-color="#5a5c5e"/></linearGradient><rect x="131.6" y="246.0" width="59.1" height="114.6" fill="url(#gd0)"/>
<ellipse cx="137.0" cy="250.6" rx="2.5" ry="1.8" transform="rotate(-40 137.0 250.6)" fill="#c4c6c8" stroke="#44474a" stroke-width="0.7"/>
<ellipse cx="137.0" cy="286.2" rx="2.9" ry="1.8" transform="rotate(0 137.0 286.2)" fill="#c4c6c8" stroke="#44474a" stroke-width="0.7"/>
<ellipse cx="137.0" cy="321.9" rx="2.3" ry="1.6" transform="rotate(40 137.0 321.9)" fill="#c4c6c8" stroke="#44474a" stroke-width="0.7"/>
<ellipse cx="137.0" cy="357.5" rx="2.5" ry="1.7" transform="rotate(40 137.0 357.5)" fill="#c4c6c8" stroke="#44474a" stroke-width="0.7"/>
<ellipse cx="143.2" cy="256.5" rx="2.7" ry="1.8" transform="rotate(40 143.2 256.5)" fill="#c4c6c8" stroke="#44474a" stroke-width="0.7"/>
<ellipse cx="143.2" cy="280.3" rx="2.7" ry="1.6" transform="rotate(45 143.2 280.3)" fill="#c4c6c8" stroke="#44474a" stroke-width="0.7"/>
<ellipse cx="143.2" cy="292.2" rx="2.9" ry="1.8" transform="rotate(-45 143.2 292.2)" fill="#c4c6c8" stroke="#44474a" stroke-width="0.7"/>
<ellipse cx="143.2" cy="315.9" rx="2.8" ry="1.6" transform="rotate(0 143.2 315.9)" fill="#c4c6c8" stroke="#44474a" stroke-width="0.7"/>
<ellipse cx="143.2" cy="327.8" rx="2.3" ry="1.9" transform="rotate(-40 143.2 327.8)" fill="#c4c6c8" stroke="#44474a" stroke-width="0.7"/>
<ellipse cx="143.2" cy="351.6" rx="2.6" ry="1.9" transform="rotate(40 143.2 351.6)" fill="#c4c6c8" stroke="#44474a" stroke-width="0.7"/>
<ellipse cx="149.3" cy="250.6" rx="2.8" ry="2.0" transform="rotate(40 149.3 250.6)" fill="#c4c6c8" stroke="#44474a" stroke-width="0.7"/>
<ellipse cx="149.3" cy="262.5" rx="2.8" ry="1.8" transform="rotate(45 149.3 262.5)" fill="#c4c6c8" stroke="#44474a" stroke-width="0.7"/>
<ellipse cx="149.3" cy="274.3" rx="2.9" ry="1.6" transform="rotate(45 149.3 274.3)" fill="#c4c6c8" stroke="#44474a" stroke-width="0.7"/>
<ellipse cx="149.3" cy="286.2" rx="2.6" ry="1.7" transform="rotate(40 149.3 286.2)" fill="#c4c6c8" stroke="#44474a" stroke-width="0.7"/>
<ellipse cx="149.3" cy="298.1" rx="2.8" ry="2.0" transform="rotate(40 149.3 298.1)" fill="#c4c6c8" stroke="#44474a" stroke-width="0.7"/>
<ellipse cx="149.3" cy="310.0" rx="2.7" ry="1.7" transform="rotate(-40 149.3 310.0)" fill="#c4c6c8" stroke="#44474a" stroke-width="0.7"/>
<ellipse cx="149.3" cy="321.9" rx="2.7" ry="1.8" transform="rotate(45 149.3 321.9)" fill="#c4c6c8" stroke="#44474a" stroke-width="0.7"/>
<ellipse cx="149.3" cy="333.8" rx="2.9" ry="1.9" transform="rotate(-45 149.3 333.8)" fill="#c4c6c8" stroke="#44474a" stroke-width="0.7"/>
<ellipse cx="149.3" cy="345.6" rx="2.9" ry="2.0" transform="rotate(45 149.3 345.6)" fill="#c4c6c8" stroke="#44474a" stroke-width="0.7"/>
<ellipse cx="149.3" cy="357.5" rx="2.8" ry="1.7" transform="rotate(0 149.3 357.5)" fill="#c4c6c8" stroke="#44474a" stroke-width="0.7"/>
<ellipse cx="155.5" cy="256.5" rx="2.9" ry="1.8" transform="rotate(45 155.5 256.5)" fill="#c4c6c8" stroke="#44474a" stroke-width="0.7"/>
<ellipse cx="155.5" cy="280.3" rx="2.7" ry="2.0" transform="rotate(-40 155.5 280.3)" fill="#c4c6c8" stroke="#44474a" stroke-width="0.7"/>
<ellipse cx="155.5" cy="292.2" rx="2.5" ry="1.6" transform="rotate(40 155.5 292.2)" fill="#c4c6c8" stroke="#44474a" stroke-width="0.7"/>
<ellipse cx="155.5" cy="315.9" rx="2.4" ry="2.0" transform="rotate(40 155.5 315.9)" fill="#c4c6c8" stroke="#44474a" stroke-width="0.7"/>
<ellipse cx="155.5" cy="327.8" rx="2.9" ry="1.6" transform="rotate(40 155.5 327.8)" fill="#c4c6c8" stroke="#44474a" stroke-width="0.7"/>
<ellipse cx="155.5" cy="351.6" rx="2.8" ry="2.0" transform="rotate(-45 155.5 351.6)" fill="#c4c6c8" stroke="#44474a" stroke-width="0.7"/>
<ellipse cx="161.7" cy="250.6" rx="2.7" ry="1.9" transform="rotate(40 161.7 250.6)" fill="#c4c6c8" stroke="#44474a" stroke-width="0.7"/>
<ellipse cx="161.7" cy="286.2" rx="2.8" ry="1.7" transform="rotate(-40 161.7 286.2)" fill="#c4c6c8" stroke="#44474a" stroke-width="0.7"/>
<ellipse cx="161.7" cy="321.9" rx="2.7" ry="2.0" transform="rotate(-40 161.7 321.9)" fill="#c4c6c8" stroke="#44474a" stroke-width="0.7"/>
<ellipse cx="161.7" cy="357.5" rx="2.3" ry="1.6" transform="rotate(0 161.7 357.5)" fill="#c4c6c8" stroke="#44474a" stroke-width="0.7"/>
<ellipse cx="174.1" cy="250.6" rx="2.3" ry="1.6" transform="rotate(40 174.1 250.6)" fill="#c4c6c8" stroke="#44474a" stroke-width="0.7"/>
<ellipse cx="174.1" cy="286.2" rx="2.5" ry="1.7" transform="rotate(-45 174.1 286.2)" fill="#c4c6c8" stroke="#44474a" stroke-width="0.7"/>
<ellipse cx="174.1" cy="321.9" rx="3.0" ry="1.7" transform="rotate(-40 174.1 321.9)" fill="#c4c6c8" stroke="#44474a" stroke-width="0.7"/>
<ellipse cx="174.1" cy="357.5" rx="3.0" ry="2.0" transform="rotate(40 174.1 357.5)" fill="#c4c6c8" stroke="#44474a" stroke-width="0.7"/>
<ellipse cx="180.3" cy="256.5" rx="2.6" ry="2.0" transform="rotate(40 180.3 256.5)" fill="#c4c6c8" stroke="#44474a" stroke-width="0.7"/>
<ellipse cx="180.3" cy="280.3" rx="2.8" ry="1.8" transform="rotate(0 180.3 280.3)" fill="#c4c6c8" stroke="#44474a" stroke-width="0.7"/>
<ellipse cx="180.3" cy="292.2" rx="2.4" ry="2.0" transform="rotate(0 180.3 292.2)" fill="#c4c6c8" stroke="#44474a" stroke-width="0.7"/>
<ellipse cx="180.3" cy="315.9" rx="2.5" ry="1.9" transform="rotate(45 180.3 315.9)" fill="#c4c6c8" stroke="#44474a" stroke-width="0.7"/>
<ellipse cx="180.3" cy="327.8" rx="3.0" ry="1.8" transform="rotate(-40 180.3 327.8)" fill="#c4c6c8" stroke="#44474a" stroke-width="0.7"/>
<ellipse cx="180.3" cy="351.6" rx="2.7" ry="1.8" transform="rotate(-45 180.3 351.6)" fill="#c4c6c8" stroke="#44474a" stroke-width="0.7"/>
<circle cx="131.8" cy="268.4" r="12.6" fill="none" stroke="#3b3b3b" stroke-width="1"/>
<circle cx="131.8" cy="268.4" r="9.6" fill="#d6d6d6"/>
<circle cx="131.8" cy="304.2" r="12.6" fill="none" stroke="#3b3b3b" stroke-width="1"/>
<circle cx="131.8" cy="304.2" r="9.6" fill="#d6d6d6"/>
<circle cx="131.8" cy="339.7" r="12.6" fill="none" stroke="#3b3b3b" stroke-width="1"/>
<circle cx="131.8" cy="339.7" r="9.6" fill="#d6d6d6"/>
<circle cx="167.9" cy="268.4" r="12.6" fill="none" stroke="#3b3b3b" stroke-width="1"/>
<circle cx="167.9" cy="268.4" r="9.6" fill="#d6d6d6"/>
<circle cx="167.9" cy="304.2" r="12.6" fill="none" stroke="#3b3b3b" stroke-width="1"/>
<circle cx="167.9" cy="304.2" r="9.6" fill="#d6d6d6"/>
<circle cx="167.9" cy="339.7" r="12.6" fill="none" stroke="#3b3b3b" stroke-width="1"/>
<circle cx="167.9" cy="339.7" r="9.6" fill="#d6d6d6"/>
<rect x="129.3" y="257.7" width="5" height="21.4" fill="#2a2d30"/>
<rect x="132.1" y="257.7" width="0.8" height="21.4" fill="#4a4d50"/>
<rect x="129.3" y="293.5" width="5" height="21.4" fill="#2a2d30"/>
<rect x="132.1" y="293.5" width="0.8" height="21.4" fill="#4a4d50"/>
<rect x="129.3" y="329.0" width="5" height="21.4" fill="#2a2d30"/>
<rect x="132.1" y="329.0" width="0.8" height="21.4" fill="#4a4d50"/>
<rect x="165.4" y="257.7" width="5" height="21.4" fill="#2a2d30"/>
<rect x="168.2" y="257.7" width="0.8" height="21.4" fill="#4a4d50"/>
<rect x="165.4" y="293.5" width="5" height="21.4" fill="#2a2d30"/>
<rect x="168.2" y="293.5" width="0.8" height="21.4" fill="#4a4d50"/>
<rect x="165.4" y="329.0" width="5" height="21.4" fill="#2a2d30"/>
<rect x="168.2" y="329.0" width="0.8" height="21.4" fill="#4a4d50"/>
<path d="M191.7,246.0 L187.5,246.0 L187.0,257.0 L190.9,262.9 L187.0,268.9 L190.9,274.8 L187.0,280.8 L190.9,286.7 L187.0,292.6 L190.9,298.6 L187.0,304.5 L190.9,310.5 L187.0,316.4 L190.9,322.4 L187.0,328.3 L190.9,334.2 L187.0,340.2 L190.9,346.1 L187.0,352.1 L190.9,358.0 L191.7,360.6 Z" fill="#f4f4f4"/>
<rect x="186.6" y="246" width="5" height="11" fill="#d9d9d9"/>
<rect x="131.6" y="246.0" width="59.1" height="1.2" fill="#111"/>
<rect x="131.6" y="358.6" width="59.1" height="2" fill="#1a1a1a"/>
</g>
</g>
<g id="lat8" filter="url(#soft)">
<clipPath id="c8"><rect x="230" y="272" width="59.9" height="92"/></clipPath>
<g clip-path="url(#c8)" fill="none" stroke="#2b9da4" stroke-width="3.3" stroke-linecap="round" stroke-linejoin="round">
<path d="M237.0,285.2 L238.4,284.3 L239.9,283.3 L241.3,282.1 L242.8,280.8M237.0,285.2 L238.5,286.1 L239.9,286.8 L241.2,287.5 L242.6,288.1M237.3,292.4 L238.7,291.5 L240.0,290.5 L241.3,289.4 L242.6,288.1M237.3,292.4 L238.7,293.4 L240.3,294.6 L242.0,295.7 L243.8,296.8M237.7,300.8 L239.3,300.0 L240.9,299.1 L242.4,298.0 L243.8,296.8M237.7,300.8 L239.5,302.4 L241.3,304.0 L243.2,305.5 L244.9,307.0M237.8,310.7 L239.6,310.0 L241.3,309.1 L243.1,308.1 L244.9,307.0M237.8,310.7 L239.3,312.6 L240.6,314.2 L241.8,315.7 L242.8,316.8M236.2,320.8 L237.8,320.0 L239.5,319.1 L241.1,318.0 L242.8,316.8M236.2,320.8 L237.4,322.3 L238.5,323.5 L239.7,324.5 L241.2,325.1M235.8,329.4 L237.1,328.5 L238.4,327.5 L239.8,326.4 L241.2,325.1M235.8,329.4 L237.5,330.4 L239.4,331.2 L241.5,331.8 L243.7,332.2M238.2,336.6 L239.6,335.7 L241.0,334.7 L242.3,333.5 L243.7,332.2M238.2,336.6 L240.3,337.5 L242.3,338.3 L244.1,339.1 L245.7,339.9M239.1,344.1 L240.8,343.2 L242.4,342.3 L244.1,341.2 L245.7,339.9M239.1,344.1 L240.3,345.4 L241.3,346.7 L242.3,348.0 L243.1,349.3M236.1,353.2 L237.8,352.4 L239.6,351.5 L241.3,350.5 L243.1,349.3M236.1,353.2 L237.0,354.9 L238.2,356.6 L239.5,358.2 L241.0,359.6M242.8,280.8 L244.2,281.2 L245.4,281.5 L246.6,282.0 L247.9,282.7M242.6,288.1 L243.9,286.7 L245.2,285.3 L246.5,283.9 L247.9,282.7M242.6,288.1 L244.0,288.8 L245.6,289.5 L247.4,290.5 L249.4,291.7M243.8,296.8 L245.3,295.5 L246.6,294.2 L248.0,292.9 L249.4,291.7M243.8,296.8 L245.8,298.0 L247.8,299.2 L249.7,300.5 L251.6,301.9M244.9,307.0 L246.6,305.7 L248.3,304.4 L249.9,303.1 L251.6,301.9M244.9,307.0 L246.4,308.3 L247.7,309.5 L248.8,310.6 L249.8,311.6M242.8,316.8 L244.5,315.5 L246.3,314.2 L248.0,312.8 L249.8,311.6M242.8,316.8 L243.8,317.8 L244.8,318.5 L245.8,319.0 L247.1,319.6M241.2,325.1 L242.6,323.7 L244.1,322.3 L245.6,320.9 L247.1,319.6M241.2,325.1 L242.8,325.6 L244.7,325.9 L246.7,326.2 L248.9,326.6M243.7,332.2 L245.0,330.8 L246.3,329.4 L247.6,328.0 L248.9,326.6M243.7,332.2 L245.9,332.7 L248.0,333.1 L249.9,333.7 L251.7,334.6M245.7,339.9 L247.2,338.6 L248.8,337.2 L250.2,335.9 L251.7,334.6M245.7,339.9 L247.0,340.8 L248.2,341.8 L249.2,342.9 L250.1,344.3M243.1,349.3 L244.9,348.1 L246.7,346.7 L248.4,345.5 L250.1,344.3M243.1,349.3 L244.0,350.6 L245.1,351.9 L246.3,353.2 L247.7,354.5M241.0,359.6 L242.6,358.3 L244.3,357.0 L246.0,355.7 L247.7,354.5M247.9,282.7 L249.3,281.5 L250.7,280.5 L252.2,279.6 L253.7,278.8M247.9,282.7 L249.3,283.6 L250.8,284.9 L252.6,286.4 L254.6,288.2M251.6,301.9 L253.1,300.9 L254.7,300.0 L256.2,299.2 L257.7,298.4M251.6,301.9 L253.2,303.4 L254.6,304.9 L255.8,306.4 L256.9,307.8M249.8,311.6 L251.6,310.5 L253.4,309.5 L255.1,308.6 L256.9,307.8M249.8,311.6 L250.7,312.6 L251.6,313.6 L252.5,314.6 L253.7,315.5M248.9,326.6 L250.2,325.4 L251.5,324.4 L252.9,323.5 L254.3,322.6M248.9,326.6 L251.1,327.3 L253.2,328.2 L255.3,329.5 L257.1,330.9M251.7,334.6 L253.1,333.5 L254.4,332.5 L255.8,331.7 L257.1,330.9M251.7,334.6 L253.2,335.8 L254.5,337.3 L255.7,339.0 L256.7,340.8M247.7,354.5 L249.4,353.4 L251.2,352.5 L253.0,351.7 L254.7,350.9M247.7,354.5 L249.3,355.8 L251.1,357.2 L253.0,358.4 L254.8,359.6M253.7,278.8 L255.0,280.2 L256.4,281.7 L258.0,283.2 L259.9,284.7M254.6,288.2 L255.9,287.4 L257.2,286.6 L258.5,285.7 L259.9,284.7M257.7,298.4 L259.5,300.2 L261.1,301.7 L262.4,303.0 L263.6,303.9M256.9,307.8 L258.6,307.0 L260.3,306.1 L261.9,305.1 L263.6,303.9M256.9,307.8 L257.8,309.0 L258.7,310.1 L259.6,310.8 L260.7,311.4M253.7,315.5 L255.4,314.6 L257.1,313.7 L258.9,312.6 L260.7,311.4M254.3,322.6 L256.4,323.7 L258.5,324.8 L260.5,326.0 L262.3,327.2M257.1,330.9 L258.4,330.1 L259.7,329.3 L261.0,328.3 L262.3,327.2M257.1,330.9 L258.7,332.5 L260.2,334.2 L261.5,335.8 L262.7,337.3M256.7,340.8 L258.3,340.1 L259.8,339.3 L261.3,338.4 L262.7,337.3M254.7,350.9 L256.3,352.5 L258.0,353.8 L259.7,354.9 L261.5,355.7M254.8,359.6 L256.4,358.8 L258.1,357.9 L259.8,356.8 L261.5,355.7M259.9,284.7 L261.3,283.5 L262.7,282.2 L264.2,280.9 L265.7,279.6M259.9,284.7 L262.0,286.1 L264.1,287.4 L266.3,288.6 L268.4,289.8M263.2,294.9 L264.5,293.7 L265.8,292.4 L267.1,291.1 L268.4,289.8M263.2,294.9 L265.1,296.1 L266.9,297.1 L268.4,297.8 L269.7,298.5M263.6,303.9 L265.2,302.7 L266.7,301.3 L268.2,299.9 L269.7,298.5M263.6,303.9 L264.6,304.6 L265.6,305.1 L266.6,305.4 L267.7,305.8M260.7,311.4 L262.4,310.1 L264.2,308.6 L266.0,307.2 L267.7,305.8M260.7,311.4 L261.9,311.8 L263.4,312.2 L265.0,312.6 L266.8,313.1M260.2,318.6 L261.8,317.3 L263.4,315.9 L265.1,314.5 L266.8,313.1M260.2,318.6 L262.2,319.3 L264.1,320.1 L266.0,321.0 L267.7,322.1M262.3,327.2 L263.6,326.0 L265.0,324.7 L266.3,323.4 L267.7,322.1M262.3,327.2 L264.0,328.5 L265.5,329.7 L266.8,331.0 L268.2,332.3M262.7,337.3 L264.1,336.1 L265.5,334.9 L266.8,333.6 L268.2,332.3M262.7,337.3 L264.0,338.7 L265.3,339.9 L266.8,341.0 L268.4,342.0M261.8,347.3 L263.5,346.0 L265.1,344.7 L266.8,343.3 L268.4,342.0M261.8,347.3 L263.4,348.3 L265.1,349.0 L266.8,349.6 L268.5,350.1M261.5,355.7 L263.2,354.3 L265.0,352.9 L266.8,351.5 L268.5,350.1M261.5,355.7 L263.1,356.2 L264.7,356.5 L266.0,356.8 L267.2,357.2M265.7,279.6 L267.6,281.1 L269.7,282.6 L271.7,284.2 L273.8,285.8M268.4,289.8 L269.7,288.6 L271.0,287.5 L272.4,286.6 L273.8,285.8M268.4,289.8 L270.4,290.9 L272.2,292.0 L273.8,293.2 L275.2,294.2M269.7,298.5 L271.1,297.2 L272.5,296.1 L273.9,295.1 L275.2,294.2M269.7,298.5 L270.9,299.1 L272.0,299.8 L273.2,300.5 L274.4,301.4M267.7,305.8 L269.5,304.5 L271.2,303.3 L272.8,302.3 L274.4,301.4M267.7,305.8 L269.0,306.2 L270.5,306.9 L272.1,307.8 L273.8,309.0M266.8,313.1 L268.5,311.9 L270.3,310.8 L272.0,309.8 L273.8,309.0M266.8,313.1 L268.6,314.0 L270.4,315.1 L272.1,316.6 L273.7,318.2M267.7,322.1 L269.1,320.9 L270.6,319.9 L272.1,319.0 L273.7,318.2M267.7,322.1 L269.3,323.4 L270.7,325.0 L272.1,326.7 L273.4,328.5M268.2,332.3 L269.5,331.2 L270.8,330.1 L272.1,329.3 L273.4,328.5M268.2,332.3 L269.5,333.7 L271.0,335.1 L272.6,336.6 L274.4,338.0M268.4,342.0 L269.9,340.8 L271.4,339.7 L272.9,338.8 L274.4,338.0M268.4,342.0 L270.1,343.0 L271.9,343.9 L273.8,344.8 L275.6,345.7M268.5,350.1 L270.3,348.8 L272.1,347.7 L273.8,346.6 L275.6,345.7M268.5,350.1 L270.1,350.6 L271.6,351.2 L272.8,351.9 L273.9,352.8M267.2,357.2 L268.9,355.9 L270.5,354.7 L272.2,353.7 L273.9,352.8M273.8,285.8 L275.2,285.1 L276.6,284.3 L278.1,283.4 L279.6,282.4M273.8,285.8 L275.7,287.3 L277.4,288.6 L279.0,289.7 L280.4,290.4M275.2,294.2 L276.5,293.4 L277.8,292.5 L279.1,291.5 L280.4,290.4M275.2,294.2 L276.5,295.2 L277.8,296.1 L279.1,296.9 L280.5,297.5M274.4,301.4 L276.0,300.5 L277.6,299.6 L279.1,298.6 L280.5,297.5M274.4,301.4 L275.8,302.3 L277.4,303.3 L279.1,304.3 L280.8,305.4M273.8,309.0 L275.6,308.2 L277.3,307.3 L279.1,306.4 L280.8,305.4M273.8,309.0 L275.5,310.3 L277.2,311.9 L278.8,313.4 L280.2,315.0M273.7,318.2 L275.2,317.5 L276.9,316.8 L278.5,315.9 L280.2,315.0M273.7,318.2 L275.1,320.1 L276.4,321.9 L277.6,323.7 L278.8,325.2M273.4,328.5 L274.7,327.8 L276.0,327.0 L277.4,326.2 L278.8,325.2M273.4,328.5 L274.8,330.3 L276.3,331.9 L277.9,333.3 L279.8,334.4M274.4,338.0 L275.8,337.2 L277.1,336.3 L278.5,335.4 L279.8,334.4M274.4,338.0 L276.3,339.2 L278.2,340.3 L280.2,341.2 L282.2,341.9M275.6,345.7 L277.3,344.9 L278.9,344.0 L280.6,343.0 L282.2,341.9M275.6,345.7 L277.2,346.6 L278.6,347.5 L279.9,348.3 L281.0,349.1M273.9,352.8 L275.6,352.0 L277.4,351.1 L279.2,350.2 L281.0,349.1M273.9,352.8 L274.9,353.9 L275.9,355.1 L276.9,356.3 L278.0,357.6M279.6,282.4 L281.3,283.4 L282.9,284.1 L284.4,284.6 L285.8,284.9M280.4,290.4 L281.7,289.2 L283.1,287.8 L284.4,286.4 L285.8,284.9M280.4,290.4 L281.8,291.0 L283.1,291.4 L284.5,291.7 L286.1,292.0M280.5,297.5 L282.0,296.3 L283.4,294.9 L284.7,293.5 L286.1,292.0M280.5,297.5 L282.1,298.1 L283.8,298.7 L285.7,299.4 L287.6,300.2M280.8,305.4 L282.6,304.2 L284.3,302.9 L285.9,301.6 L287.6,300.2M280.8,305.4 L282.6,306.5 L284.3,307.6 L285.8,308.8 L287.2,310.1M280.2,315.0 L281.9,313.9 L283.7,312.6 L285.4,311.3 L287.2,310.1M280.2,315.0 L281.5,316.4 L282.6,317.8 L283.7,319.1 L284.7,320.2M278.8,325.2 L280.2,324.1 L281.7,322.9 L283.2,321.5 L284.7,320.2M278.8,325.2 L280.1,326.5 L281.5,327.6 L283.2,328.4 L285.0,329.0M279.8,334.4 L281.1,333.2 L282.4,331.8 L283.7,330.4 L285.0,329.0M279.8,334.4 L281.8,335.2 L283.9,335.7 L286.1,336.0 L288.1,336.4M282.2,341.9 L283.7,340.6 L285.2,339.3 L286.7,337.8 L288.1,336.4M282.2,341.9 L283.9,342.4 L285.5,342.8 L286.8,343.2 L288.0,343.7M281.0,349.1 L282.7,347.8 L284.5,346.5 L286.2,345.1 L288.0,343.7M281.0,349.1 L281.9,349.8 L282.8,350.6 L283.7,351.5 L284.7,352.5M278.0,357.6 L279.6,356.5 L281.3,355.2 L283.0,353.9 L284.7,352.5M285.8,284.9 L287.2,283.6 L288.6,282.3 L290.1,281.2 L291.6,280.2M285.8,284.9 L287.1,285.3 L288.4,285.8 L289.8,286.5 L291.3,287.4M287.6,300.2 L289.1,299.0 L290.7,297.8 L292.2,296.8 L293.7,295.9M287.6,300.2 L289.4,301.3 L291.2,302.6 L292.9,304.2 L294.3,305.9M287.2,310.1 L289.0,308.8 L290.8,307.7 L292.5,306.8 L294.3,305.9M287.2,310.1 L288.4,311.4 L289.4,312.9 L290.4,314.4 L291.3,316.0M285.0,329.0 L286.3,327.7 L287.7,326.5 L289.0,325.4 L290.4,324.5M285.0,329.0 L287.0,329.6 L289.2,330.2 L291.4,330.9 L293.6,331.6M288.1,336.4 L289.5,335.0 L290.9,333.7 L292.3,332.6 L293.6,331.6M288.1,336.4 L290.1,336.7 L291.8,337.3 L293.3,338.1 L294.6,339.2M284.7,352.5 L286.4,351.3 L288.2,350.2 L289.9,349.2 L291.7,348.3M284.7,352.5 L285.9,353.8 L287.3,355.2 L288.9,356.9 L290.8,358.6" stroke="#1f7f87" transform="translate(0.9,0.9)"/>
<path d="M237.0,285.2 L238.4,284.3 L239.9,283.3 L241.3,282.1 L242.8,280.8M237.0,285.2 L238.5,286.1 L239.9,286.8 L241.2,287.5 L242.6,288.1M237.3,292.4 L238.7,291.5 L240.0,290.5 L241.3,289.4 L242.6,288.1M237.3,292.4 L238.7,293.4 L240.3,294.6 L242.0,295.7 L243.8,296.8M237.7,300.8 L239.3,300.0 L240.9,299.1 L242.4,298.0 L243.8,296.8M237.7,300.8 L239.5,302.4 L241.3,304.0 L243.2,305.5 L244.9,307.0M237.8,310.7 L239.6,310.0 L241.3,309.1 L243.1,308.1 L244.9,307.0M237.8,310.7 L239.3,312.6 L240.6,314.2 L241.8,315.7 L242.8,316.8M236.2,320.8 L237.8,320.0 L239.5,319.1 L241.1,318.0 L242.8,316.8M236.2,320.8 L237.4,322.3 L238.5,323.5 L239.7,324.5 L241.2,325.1M235.8,329.4 L237.1,328.5 L238.4,327.5 L239.8,326.4 L241.2,325.1M235.8,329.4 L237.5,330.4 L239.4,331.2 L241.5,331.8 L243.7,332.2M238.2,336.6 L239.6,335.7 L241.0,334.7 L242.3,333.5 L243.7,332.2M238.2,336.6 L240.3,337.5 L242.3,338.3 L244.1,339.1 L245.7,339.9M239.1,344.1 L240.8,343.2 L242.4,342.3 L244.1,341.2 L245.7,339.9M239.1,344.1 L240.3,345.4 L241.3,346.7 L242.3,348.0 L243.1,349.3M236.1,353.2 L237.8,352.4 L239.6,351.5 L241.3,350.5 L243.1,349.3M236.1,353.2 L237.0,354.9 L238.2,356.6 L239.5,358.2 L241.0,359.6M242.8,280.8 L244.2,281.2 L245.4,281.5 L246.6,282.0 L247.9,282.7M242.6,288.1 L243.9,286.7 L245.2,285.3 L246.5,283.9 L247.9,282.7M242.6,288.1 L244.0,288.8 L245.6,289.5 L247.4,290.5 L249.4,291.7M243.8,296.8 L245.3,295.5 L246.6,294.2 L248.0,292.9 L249.4,291.7M243.8,296.8 L245.8,298.0 L247.8,299.2 L249.7,300.5 L251.6,301.9M244.9,307.0 L246.6,305.7 L248.3,304.4 L249.9,303.1 L251.6,301.9M244.9,307.0 L246.4,308.3 L247.7,309.5 L248.8,310.6 L249.8,311.6M242.8,316.8 L244.5,315.5 L246.3,314.2 L248.0,312.8 L249.8,311.6M242.8,316.8 L243.8,317.8 L244.8,318.5 L245.8,319.0 L247.1,319.6M241.2,325.1 L242.6,323.7 L244.1,322.3 L245.6,320.9 L247.1,319.6M241.2,325.1 L242.8,325.6 L244.7,325.9 L246.7,326.2 L248.9,326.6M243.7,332.2 L245.0,330.8 L246.3,329.4 L247.6,328.0 L248.9,326.6M243.7,332.2 L245.9,332.7 L248.0,333.1 L249.9,333.7 L251.7,334.6M245.7,339.9 L247.2,338.6 L248.8,337.2 L250.2,335.9 L251.7,334.6M245.7,339.9 L247.0,340.8 L248.2,341.8 L249.2,342.9 L250.1,344.3M243.1,349.3 L244.9,348.1 L246.7,346.7 L248.4,345.5 L250.1,344.3M243.1,349.3 L244.0,350.6 L245.1,351.9 L246.3,353.2 L247.7,354.5M241.0,359.6 L242.6,358.3 L244.3,357.0 L246.0,355.7 L247.7,354.5M247.9,282.7 L249.3,281.5 L250.7,280.5 L252.2,279.6 L253.7,278.8M247.9,282.7 L249.3,283.6 L250.8,284.9 L252.6,286.4 L254.6,288.2M251.6,301.9 L253.1,300.9 L254.7,300.0 L256.2,299.2 L257.7,298.4M251.6,301.9 L253.2,303.4 L254.6,304.9 L255.8,306.4 L256.9,307.8M249.8,311.6 L251.6,310.5 L253.4,309.5 L255.1,308.6 L256.9,307.8M249.8,311.6 L250.7,312.6 L251.6,313.6 L252.5,314.6 L253.7,315.5M248.9,326.6 L250.2,325.4 L251.5,324.4 L252.9,323.5 L254.3,322.6M248.9,326.6 L251.1,327.3 L253.2,328.2 L255.3,329.5 L257.1,330.9M251.7,334.6 L253.1,333.5 L254.4,332.5 L255.8,331.7 L257.1,330.9M251.7,334.6 L253.2,335.8 L254.5,337.3 L255.7,339.0 L256.7,340.8M247.7,354.5 L249.4,353.4 L251.2,352.5 L253.0,351.7 L254.7,350.9M247.7,354.5 L249.3,355.8 L251.1,357.2 L253.0,358.4 L254.8,359.6M253.7,278.8 L255.0,280.2 L256.4,281.7 L258.0,283.2 L259.9,284.7M254.6,288.2 L255.9,287.4 L257.2,286.6 L258.5,285.7 L259.9,284.7M257.7,298.4 L259.5,300.2 L261.1,301.7 L262.4,303.0 L263.6,303.9M256.9,307.8 L258.6,307.0 L260.3,306.1 L261.9,305.1 L263.6,303.9M256.9,307.8 L257.8,309.0 L258.7,310.1 L259.6,310.8 L260.7,311.4M253.7,315.5 L255.4,314.6 L257.1,313.7 L258.9,312.6 L260.7,311.4M254.3,322.6 L256.4,323.7 L258.5,324.8 L260.5,326.0 L262.3,327.2M257.1,330.9 L258.4,330.1 L259.7,329.3 L261.0,328.3 L262.3,327.2M257.1,330.9 L258.7,332.5 L260.2,334.2 L261.5,335.8 L262.7,337.3M256.7,340.8 L258.3,340.1 L259.8,339.3 L261.3,338.4 L262.7,337.3M254.7,350.9 L256.3,352.5 L258.0,353.8 L259.7,354.9 L261.5,355.7M254.8,359.6 L256.4,358.8 L258.1,357.9 L259.8,356.8 L261.5,355.7M259.9,284.7 L261.3,283.5 L262.7,282.2 L264.2,280.9 L265.7,279.6M259.9,284.7 L262.0,286.1 L264.1,287.4 L266.3,288.6 L268.4,289.8M263.2,294.9 L264.5,293.7 L265.8,292.4 L267.1,291.1 L268.4,289.8M263.2,294.9 L265.1,296.1 L266.9,297.1 L268.4,297.8 L269.7,298.5M263.6,303.9 L265.2,302.7 L266.7,301.3 L268.2,299.9 L269.7,298.5M263.6,303.9 L264.6,304.6 L265.6,305.1 L266.6,305.4 L267.7,305.8M260.7,311.4 L262.4,310.1 L264.2,308.6 L266.0,307.2 L267.7,305.8M260.7,311.4 L261.9,311.8 L263.4,312.2 L265.0,312.6 L266.8,313.1M260.2,318.6 L261.8,317.3 L263.4,315.9 L265.1,314.5 L266.8,313.1M260.2,318.6 L262.2,319.3 L264.1,320.1 L266.0,321.0 L267.7,322.1M262.3,327.2 L263.6,326.0 L265.0,324.7 L266.3,323.4 L267.7,322.1M262.3,327.2 L264.0,328.5 L265.5,329.7 L266.8,331.0 L268.2,332.3M262.7,337.3 L264.1,336.1 L265.5,334.9 L266.8,333.6 L268.2,332.3M262.7,337.3 L264.0,338.7 L265.3,339.9 L266.8,341.0 L268.4,342.0M261.8,347.3 L263.5,346.0 L265.1,344.7 L266.8,343.3 L268.4,342.0M261.8,347.3 L263.4,348.3 L265.1,349.0 L266.8,349.6 L268.5,350.1M261.5,355.7 L263.2,354.3 L265.0,352.9 L266.8,351.5 L268.5,350.1M261.5,355.7 L263.1,356.2 L264.7,356.5 L266.0,356.8 L267.2,357.2M265.7,279.6 L267.6,281.1 L269.7,282.6 L271.7,284.2 L273.8,285.8M268.4,289.8 L269.7,288.6 L271.0,287.5 L272.4,286.6 L273.8,285.8M268.4,289.8 L270.4,290.9 L272.2,292.0 L273.8,293.2 L275.2,294.2M269.7,298.5 L271.1,297.2 L272.5,296.1 L273.9,295.1 L275.2,294.2M269.7,298.5 L270.9,299.1 L272.0,299.8 L273.2,300.5 L274.4,301.4M267.7,305.8 L269.5,304.5 L271.2,303.3 L272.8,302.3 L274.4,301.4M267.7,305.8 L269.0,306.2 L270.5,306.9 L272.1,307.8 L273.8,309.0M266.8,313.1 L268.5,311.9 L270.3,310.8 L272.0,309.8 L273.8,309.0M266.8,313.1 L268.6,314.0 L270.4,315.1 L272.1,316.6 L273.7,318.2M267.7,322.1 L269.1,320.9 L270.6,319.9 L272.1,319.0 L273.7,318.2M267.7,322.1 L269.3,323.4 L270.7,325.0 L272.1,326.7 L273.4,328.5M268.2,332.3 L269.5,331.2 L270.8,330.1 L272.1,329.3 L273.4,328.5M268.2,332.3 L269.5,333.7 L271.0,335.1 L272.6,336.6 L274.4,338.0M268.4,342.0 L269.9,340.8 L271.4,339.7 L272.9,338.8 L274.4,338.0M268.4,342.0 L270.1,343.0 L271.9,343.9 L273.8,344.8 L275.6,345.7M268.5,350.1 L270.3,348.8 L272.1,347.7 L273.8,346.6 L275.6,345.7M268.5,350.1 L270.1,350.6 L271.6,351.2 L272.8,351.9 L273.9,352.8M267.2,357.2 L268.9,355.9 L270.5,354.7 L272.2,353.7 L273.9,352.8M273.8,285.8 L275.2,285.1 L276.6,284.3 L278.1,283.4 L279.6,282.4M273.8,285.8 L275.7,287.3 L277.4,288.6 L279.0,289.7 L280.4,290.4M275.2,294.2 L276.5,293.4 L277.8,292.5 L279.1,291.5 L280.4,290.4M275.2,294.2 L276.5,295.2 L277.8,296.1 L279.1,296.9 L280.5,297.5M274.4,301.4 L276.0,300.5 L277.6,299.6 L279.1,298.6 L280.5,297.5M274.4,301.4 L275.8,302.3 L277.4,303.3 L279.1,304.3 L280.8,305.4M273.8,309.0 L275.6,308.2 L277.3,307.3 L279.1,306.4 L280.8,305.4M273.8,309.0 L275.5,310.3 L277.2,311.9 L278.8,313.4 L280.2,315.0M273.7,318.2 L275.2,317.5 L276.9,316.8 L278.5,315.9 L280.2,315.0M273.7,318.2 L275.1,320.1 L276.4,321.9 L277.6,323.7 L278.8,325.2M273.4,328.5 L274.7,327.8 L276.0,327.0 L277.4,326.2 L278.8,325.2M273.4,328.5 L274.8,330.3 L276.3,331.9 L277.9,333.3 L279.8,334.4M274.4,338.0 L275.8,337.2 L277.1,336.3 L278.5,335.4 L279.8,334.4M274.4,338.0 L276.3,339.2 L278.2,340.3 L280.2,341.2 L282.2,341.9M275.6,345.7 L277.3,344.9 L278.9,344.0 L280.6,343.0 L282.2,341.9M275.6,345.7 L277.2,346.6 L278.6,347.5 L279.9,348.3 L281.0,349.1M273.9,352.8 L275.6,352.0 L277.4,351.1 L279.2,350.2 L281.0,349.1M273.9,352.8 L274.9,353.9 L275.9,355.1 L276.9,356.3 L278.0,357.6M279.6,282.4 L281.3,283.4 L282.9,284.1 L284.4,284.6 L285.8,284.9M280.4,290.4 L281.7,289.2 L283.1,287.8 L284.4,286.4 L285.8,284.9M280.4,290.4 L281.8,291.0 L283.1,291.4 L284.5,291.7 L286.1,292.0M280.5,297.5 L282.0,296.3 L283.4,294.9 L284.7,293.5 L286.1,292.0M280.5,297.5 L282.1,298.1 L283.8,298.7 L285.7,299.4 L287.6,300.2M280.8,305.4 L282.6,304.2 L284.3,302.9 L285.9,301.6 L287.6,300.2M280.8,305.4 L282.6,306.5 L284.3,307.6 L285.8,308.8 L287.2,310.1M280.2,315.0 L281.9,313.9 L283.7,312.6 L285.4,311.3 L287.2,310.1M280.2,315.0 L281.5,316.4 L282.6,317.8 L283.7,319.1 L284.7,320.2M278.8,325.2 L280.2,324.1 L281.7,322.9 L283.2,321.5 L284.7,320.2M278.8,325.2 L280.1,326.5 L281.5,327.6 L283.2,328.4 L285.0,329.0M279.8,334.4 L281.1,333.2 L282.4,331.8 L283.7,330.4 L285.0,329.0M279.8,334.4 L281.8,335.2 L283.9,335.7 L286.1,336.0 L288.1,336.4M282.2,341.9 L283.7,340.6 L285.2,339.3 L286.7,337.8 L288.1,336.4M282.2,341.9 L283.9,342.4 L285.5,342.8 L286.8,343.2 L288.0,343.7M281.0,349.1 L282.7,347.8 L284.5,346.5 L286.2,345.1 L288.0,343.7M281.0,349.1 L281.9,349.8 L282.8,350.6 L283.7,351.5 L284.7,352.5M278.0,357.6 L279.6,356.5 L281.3,355.2 L283.0,353.9 L284.7,352.5M285.8,284.9 L287.2,283.6 L288.6,282.3 L290.1,281.2 L291.6,280.2M285.8,284.9 L287.1,285.3 L288.4,285.8 L289.8,286.5 L291.3,287.4M287.6,300.2 L289.1,299.0 L290.7,297.8 L292.2,296.8 L293.7,295.9M287.6,300.2 L289.4,301.3 L291.2,302.6 L292.9,304.2 L294.3,305.9M287.2,310.1 L289.0,308.8 L290.8,307.7 L292.5,306.8 L294.3,305.9M287.2,310.1 L288.4,311.4 L289.4,312.9 L290.4,314.4 L291.3,316.0M285.0,329.0 L286.3,327.7 L287.7,326.5 L289.0,325.4 L290.4,324.5M285.0,329.0 L287.0,329.6 L289.2,330.2 L291.4,330.9 L293.6,331.6M288.1,336.4 L289.5,335.0 L290.9,333.7 L292.3,332.6 L293.6,331.6M288.1,336.4 L290.1,336.7 L291.8,337.3 L293.3,338.1 L294.6,339.2M284.7,352.5 L286.4,351.3 L288.2,350.2 L289.9,349.2 L291.7,348.3M284.7,352.5 L285.9,353.8 L287.3,355.2 L288.9,356.9 L290.8,358.6"/>
<path d="M269.1,294.4 L269.1,296.1 L268.5,297.7 L267.4,299.4 L266.0,300.9 L264.3,302.2 L262.3,303.1 L260.2,303.3 L258.0,302.9 L255.6,302.1 L253.3,301.0 L250.9,299.8 L248.6,298.5 L246.7,297.1 L245.1,295.5 L244.0,293.8 L243.5,292.2 L243.4,290.5 L243.9,288.9 L244.8,287.2 L246.0,285.7 L247.5,284.4 L249.4,283.5 L251.4,283.3 L253.6,283.7 L255.9,284.5 L258.4,285.6 L260.9,286.8 L263.4,288.1 L265.5,289.5 L267.3,291.1 L268.5,292.8 L269.1,294.4M266.6,317.5 L266.6,319.2 L266.1,320.9 L265.2,322.6 L264.0,324.1 L262.3,325.3 L260.4,326.1 L258.2,326.4 L255.7,326.2 L253.1,325.8 L250.3,325.5 L247.7,325.3 L245.4,325.0 L243.7,324.6 L242.5,323.7 L241.9,322.6 L242.0,321.1 L242.6,319.5 L243.6,317.9 L245.1,316.2 L246.8,314.7 L248.7,313.4 L250.8,312.5 L252.9,312.1 L255.0,312.1 L256.9,312.3 L258.8,312.5 L260.7,312.7 L262.4,313.0 L264.0,313.6 L265.3,314.5 L266.2,315.9 L266.6,317.5M268.0,346.4 L267.8,347.9 L267.0,349.5 L265.7,351.1 L264.0,352.7 L262.0,354.0 L259.6,355.0 L257.1,355.4 L254.5,355.1 L251.9,354.5 L249.5,353.5 L247.5,352.4 L246.1,351.2 L245.2,349.7 L244.8,348.0 L244.9,346.2 L245.3,344.4 L246.0,342.6 L246.9,340.9 L248.1,339.2 L249.6,337.7 L251.3,336.5 L253.3,335.7 L255.3,335.6 L257.4,336.1 L259.4,337.1 L261.2,338.2 L262.9,339.4 L264.4,340.7 L265.8,342.0 L266.9,343.4 L267.7,344.9 L268.0,346.4M305.6,293.0 L305.9,294.9 L305.5,296.8 L304.6,298.5 L303.2,299.9 L301.4,300.9 L299.3,301.2 L297.0,301.0 L294.5,300.4 L291.9,299.7 L289.3,299.1 L286.8,298.5 L284.7,297.9 L283.0,297.2 L281.8,296.3 L281.2,295.1 L280.9,293.9 L281.1,292.5 L281.7,291.1 L282.6,289.6 L283.8,288.0 L285.4,286.5 L287.1,285.2 L289.1,284.4 L291.1,284.0 L293.1,284.2 L295.2,284.7 L297.3,285.5 L299.4,286.5 L301.5,287.7 L303.3,289.3 L304.7,291.1 L305.6,293.0M302.6,319.3 L302.6,320.7 L302.3,322.2 L301.5,323.8 L300.2,325.2 L298.6,326.5 L296.6,327.3 L294.2,327.7 L291.7,327.8 L289.0,327.8 L286.5,327.8 L284.2,327.5 L282.3,326.8 L280.9,325.6 L280.1,324.0 L279.7,322.2 L279.8,320.2 L280.4,318.3 L281.3,316.5 L282.7,314.9 L284.4,313.4 L286.4,312.1 L288.5,311.3 L290.7,311.1 L292.8,311.5 L294.8,312.4 L296.5,313.5 L297.9,314.5 L299.2,315.4 L300.4,316.2 L301.4,317.0 L302.1,318.1 L302.6,319.3M304.3,345.7 L303.8,347.6 L303.0,349.4 L301.7,351.1 L300.0,352.5 L297.9,353.5 L295.6,353.9 L293.2,353.7 L290.7,353.0 L288.5,352.2 L286.5,351.4 L284.9,350.7 L283.8,349.8 L283.0,348.9 L282.6,347.8 L282.5,346.6 L282.6,345.3 L283.0,343.9 L283.8,342.5 L284.9,341.0 L286.3,339.4 L288.1,337.9 L290.2,336.6 L292.4,335.8 L294.8,335.5 L297.0,335.9 L299.0,336.6 L300.8,337.6 L302.1,338.8 L303.2,340.2 L303.9,341.9 L304.2,343.7 L304.3,345.7" fill="#fff" stroke-width="3.2"/>
<path d="M253.7,278.8 L253.5,280.8 L253.5,282.8 L253.8,285.0 L254.3,287.2 L255.0,289.4 L255.7,291.7 L256.5,294.1 L257.2,296.4 L257.7,298.7 L258.0,300.9 L257.9,303.1 L257.6,305.2 L257.1,307.2 L256.4,309.1 L255.6,310.9 L254.8,312.6 L254.1,314.2 L253.6,315.8 L253.3,317.4 L253.4,319.0 L253.6,320.6 L254.2,322.2 L254.8,323.9 L255.5,325.7 L256.2,327.6 L256.8,329.5 L257.2,331.6 L257.4,333.7 L257.4,335.9 L257.2,338.2 L256.8,340.5 L256.3,342.9 L255.8,345.2 L255.3,347.5 L254.9,349.7 L254.6,351.9 L254.5,353.9 L254.5,355.9 L254.6,357.8 L254.8,359.6M291.6,280.2 L291.3,281.8 L291.1,283.4 L291.0,285.0 L291.2,286.7 L291.5,288.4 L292.0,290.2 L292.5,292.1 L293.1,294.1 L293.7,296.2 L294.2,298.3 L294.5,300.6 L294.6,302.9 L294.4,305.2 L294.0,307.5 L293.4,309.8 L292.6,312.1 L291.9,314.3 L291.1,316.4 L290.6,318.5 L290.2,320.4 L290.1,322.3 L290.3,324.1 L290.8,325.8 L291.5,327.4 L292.3,329.0 L293.1,330.6 L293.8,332.2 L294.4,333.8 L294.7,335.4 L294.8,337.1 L294.6,339.0 L294.2,340.9 L293.6,342.9 L292.8,344.9 L292.1,347.1 L291.4,349.3 L291.0,351.6 L290.7,354.0 L290.6,356.3 L290.8,358.6" stroke-width="4.4" stroke="#23868e"/>
<path d="M253.7,278.8 L253.5,280.8 L253.5,282.8 L253.8,285.0 L254.3,287.2 L255.0,289.4 L255.7,291.7 L256.5,294.1 L257.2,296.4 L257.7,298.7 L258.0,300.9 L257.9,303.1 L257.6,305.2 L257.1,307.2 L256.4,309.1 L255.6,310.9 L254.8,312.6 L254.1,314.2 L253.6,315.8 L253.3,317.4 L253.4,319.0 L253.6,320.6 L254.2,322.2 L254.8,323.9 L255.5,325.7 L256.2,327.6 L256.8,329.5 L257.2,331.6 L257.4,333.7 L257.4,335.9 L257.2,338.2 L256.8,340.5 L256.3,342.9 L255.8,345.2 L255.3,347.5 L254.9,349.7 L254.6,351.9 L254.5,353.9 L254.5,355.9 L254.6,357.8 L254.8,359.6M291.6,280.2 L291.3,281.8 L291.1,283.4 L291.0,285.0 L291.2,286.7 L291.5,288.4 L292.0,290.2 L292.5,292.1 L293.1,294.1 L293.7,296.2 L294.2,298.3 L294.5,300.6 L294.6,302.9 L294.4,305.2 L294.0,307.5 L293.4,309.8 L292.6,312.1 L291.9,314.3 L291.1,316.4 L290.6,318.5 L290.2,320.4 L290.1,322.3 L290.3,324.1 L290.8,325.8 L291.5,327.4 L292.3,329.0 L293.1,330.6 L293.8,332.2 L294.4,333.8 L294.7,335.4 L294.8,337.1 L294.6,339.0 L294.2,340.9 L293.6,342.9 L292.8,344.9 L292.1,347.1 L291.4,349.3 L291.0,351.6 L290.7,354.0 L290.6,356.3 L290.8,358.6" stroke-width="2.2"/>
<path d="M273.6,335.5 A6.5,4.6 19 0 1 263.2,338.4M256.5,353.2 A5.9,4.5 -31 0 1 265.6,345.7M266.9,321.8 A3.6,2.7 -18 1 1 261.2,323.2M252.1,337.4 A4.1,3.8 -30 1 1 246.6,336.2M256.9,296.4 A7.1,4.5 -17 1 1 243.9,299.4M275.6,300.1 A7.0,4.0 37 1 1 263.8,296.8M253.3,295.6 A4.1,2.3 -16 0 1 260.8,294.9M268.0,311.8 A4.7,4.3 -2 1 1 273.6,305.3M275.3,288.2 A7.1,2.2 20 0 1 270.2,290.6M277.4,309.9 A5.7,2.1 -36 1 1 278.4,306.1M246.7,341.1 A6.9,4.6 -12 1 1 256.4,334.1M278.7,295.8 A6.3,4.3 29 1 1 277.8,289.7M250.3,304.9 A5.8,4.6 -13 1 1 240.0,308.2M252.4,305.2 A4.2,2.3 -28 1 1 251.2,308.6" stroke-width="2.8" stroke="#1f7f87" transform="translate(0.8,0.8)"/>
<path d="M273.6,335.5 A6.5,4.6 19 0 1 263.2,338.4M256.5,353.2 A5.9,4.5 -31 0 1 265.6,345.7M266.9,321.8 A3.6,2.7 -18 1 1 261.2,323.2M252.1,337.4 A4.1,3.8 -30 1 1 246.6,336.2M256.9,296.4 A7.1,4.5 -17 1 1 243.9,299.4M275.6,300.1 A7.0,4.0 37 1 1 263.8,296.8M253.3,295.6 A4.1,2.3 -16 0 1 260.8,294.9M268.0,311.8 A4.7,4.3 -2 1 1 273.6,305.3M275.3,288.2 A7.1,2.2 20 0 1 270.2,290.6M277.4,309.9 A5.7,2.1 -36 1 1 278.4,306.1M246.7,341.1 A6.9,4.6 -12 1 1 256.4,334.1M278.7,295.8 A6.3,4.3 29 1 1 277.8,289.7M250.3,304.9 A5.8,4.6 -13 1 1 240.0,308.2M252.4,305.2 A4.2,2.3 -28 1 1 251.2,308.6" stroke-width="2.6"/>
</g>
<clipPath id="cd8"><rect x="289.9" y="277.6" width="60.4" height="82.0"/></clipPath>
<g clip-path="url(#cd8)">
<rect x="289.9" y="278.6" width="57.4" height="81.0" fill="#272a2d"/>
<path d="M312.1,321.9 q8.6,-0.4 12.1,0.5M300.7,318.5 q7.1,3.5 8.8,-1.2M296.7,339.9 q7.5,-5.5 15.9,2.8M320.6,325.9 q4.8,-5.8 12.2,-2.6M301.0,299.0 q4.2,-0.4 11.5,2.1M314.9,327.7 q6.5,1.9 11.7,-1.3M335.2,353.3 q8.2,2.5 10.5,-1.6M305.2,286.7 q7.8,-1.2 14.8,-0.7M333.5,342.6 q4.0,-3.5 15.3,-0.2M334.5,310.2 q4.4,1.6 14.2,-1.4M296.6,305.5 q8.8,3.1 8.9,-1.5M297.2,285.9 q8.0,-3.9 12.5,-0.3M301.0,334.3 q4.7,1.7 8.9,-0.5M301.9,301.0 q8.9,3.6 10.4,2.3M301.8,310.0 q8.3,1.7 8.8,2.9M301.9,300.2 q7.9,-2.1 10.4,-2.6M296.7,323.6 q5.2,1.2 11.0,-0.3M333.6,316.4 q6.9,4.4 9.5,-2.1M331.4,340.5 q5.2,-3.7 13.9,2.6M301.2,350.0 q8.4,1.2 11.4,-2.4M294.5,350.9 q5.2,2.5 10.1,1.9M318.2,302.7 q4.9,2.6 8.6,-1.6M316.6,343.0 q7.1,-2.6 15.3,-1.8M293.6,301.0 q6.2,-5.3 9.4,-0.8M317.2,291.1 q5.8,4.7 15.8,0.9M322.2,323.7 q4.7,-5.6 8.1,2.5" fill="none" stroke="#474a4d" stroke-width="1.6" stroke-linecap="round"/>
<path d="M350.3,277.6 L344.6,277.6 L344.3,286.6 L347.6,290.9 L344.3,295.2 L347.6,299.5 L344.3,303.8 L347.6,308.1 L344.3,312.4 L347.6,316.7 L344.3,321.0 L347.6,325.3 L344.3,329.6 L347.6,333.9 L344.3,338.2 L347.6,342.5 L344.3,346.8 L347.6,351.1 L344.3,355.4 L350.3,359.6 Z" fill="#f4f4f4"/>
<rect x="344.8" y="278.6" width="3.6" height="8.5" fill="#dedede"/>
<ellipse cx="290.1" cy="314.2" rx="11.0" ry="5.2" fill="#c9cbcd"/>
<ellipse cx="290.1" cy="339.8" rx="10.0" ry="6.2" fill="#c9cbcd"/>
<ellipse cx="321.0" cy="314.2" rx="5.4" ry="2.8" transform="rotate(0 321.0 314.2)" fill="#c9cbcd"/>
<ellipse cx="332.2" cy="316.0" rx="2.4" ry="1.6" transform="rotate(30 332.2 316.0)" fill="#c9cbcd"/>
<ellipse cx="331.5" cy="341.2" rx="4.2" ry="6.6" transform="rotate(0 331.5 341.2)" fill="#c9cbcd"/>
<ellipse cx="302.4" cy="331.6" rx="2.1" ry="1.5" transform="rotate(-30 302.4 331.6)" fill="#c9cbcd"/>
<ellipse cx="310.6" cy="329.3" rx="2.0" ry="1.4" transform="rotate(30 310.6 329.3)" fill="#c9cbcd"/>
<ellipse cx="312.9" cy="334.7" rx="1.8" ry="1.3" transform="rotate(-30 312.9 334.7)" fill="#c9cbcd"/>
<ellipse cx="303.1" cy="338.8" rx="1.8" ry="1.3" transform="rotate(30 303.1 338.8)" fill="#c9cbcd"/>
<ellipse cx="311.7" cy="342.1" rx="2.1" ry="1.5" transform="rotate(-30 311.7 342.1)" fill="#c9cbcd"/>
<ellipse cx="304.8" cy="350.2" rx="2.2" ry="1.4" transform="rotate(20 304.8 350.2)" fill="#c9cbcd"/>
<ellipse cx="311.0" cy="347.2" rx="1.8" ry="1.3" transform="rotate(-20 311.0 347.2)" fill="#c9cbcd"/>
<ellipse cx="335.0" cy="329.3" rx="2.0" ry="1.4" transform="rotate(30 335.0 329.3)" fill="#c9cbcd"/>
<ellipse cx="340.8" cy="325.8" rx="1.7" ry="1.3" transform="rotate(-30 340.8 325.8)" fill="#c9cbcd"/>
<ellipse cx="338.5" cy="337.4" rx="1.8" ry="1.3" transform="rotate(30 338.5 337.4)" fill="#c9cbcd"/>
<ellipse cx="342.2" cy="334.0" rx="1.5" ry="1.2" transform="rotate(0 342.2 334.0)" fill="#c9cbcd"/>
<ellipse cx="340.8" cy="346.7" rx="1.8" ry="1.3" transform="rotate(-30 340.8 346.7)" fill="#c9cbcd"/>
<ellipse cx="335.0" cy="349.8" rx="1.8" ry="1.2" transform="rotate(30 335.0 349.8)" fill="#c9cbcd"/>
<ellipse cx="335.0" cy="320.7" rx="1.6" ry="1.1" transform="rotate(0 335.0 320.7)" fill="#c9cbcd"/>
<ellipse cx="319.9" cy="350.2" rx="1.7" ry="1.2" transform="rotate(0 319.9 350.2)" fill="#c9cbcd"/>
<ellipse cx="299.0" cy="324.7" rx="1.8" ry="1.2" transform="rotate(30 299.0 324.7)" fill="#c9cbcd"/>
<ellipse cx="315.2" cy="324.7" rx="1.5" ry="1.1" transform="rotate(-20 315.2 324.7)" fill="#c9cbcd"/>
<ellipse cx="343.1" cy="317.7" rx="1.5" ry="1.1" transform="rotate(0 343.1 317.7)" fill="#c9cbcd"/>
<circle cx="308.3" cy="284.0" r="0.8" fill="#8a8d90"/>
<circle cx="329.2" cy="284.0" r="0.8" fill="#8a8d90"/>
<circle cx="296.6" cy="299.1" r="0.8" fill="#8a8d90"/>
<circle cx="301.7" cy="301.9" r="0.8" fill="#8a8d90"/>
<circle cx="315.2" cy="300.2" r="0.8" fill="#8a8d90"/>
<circle cx="308.3" cy="293.3" r="0.8" fill="#8a8d90"/>
<circle cx="322.2" cy="295.6" r="0.8" fill="#8a8d90"/>
<circle cx="335.0" cy="290.9" r="0.8" fill="#8a8d90"/>
<circle cx="339.7" cy="302.6" r="0.8" fill="#8a8d90"/>
<circle cx="299.0" cy="288.6" r="0.8" fill="#8a8d90"/>
<circle cx="326.9" cy="304.9" r="0.8" fill="#8a8d90"/>
<rect x="324.8" y="332.2" width="3" height="18" fill="#272a2d"/>
<rect x="289.9" y="278.6" width="55.4" height="1.2" fill="#111"/>
</g>
<rect x="289.9" y="357.6" width="60.4" height="2" fill="#151515"/>
</g>
<g id="lat16" filter="url(#soft)">
<clipPath id="c16"><rect x="396" y="306" width="62.8" height="52"/></clipPath>
<g clip-path="url(#c16)" fill="none" stroke="#38a6ae" stroke-width="3.4" stroke-linecap="round" stroke-linejoin="round">
<path d="M402.0,307.6 L405.2,308.8 L408.4,307.6 L411.6,308.8 L414.8,307.6 L418.0,308.8 L421.2,307.6 L424.4,308.8 L427.6,307.6 L430.8,308.8 L434.0,307.6 L437.2,308.8 L440.4,307.6 L443.6,308.8 L446.8,307.6 L450.0,308.8 L453.2,307.6 L456.4,308.8 L459.6,307.6 L460.0,307.6 L460.0,356.8 L458.0,356.6 L454.8,355.0 L451.6,356.6 L448.4,355.0 L445.2,356.6 L442.0,355.0 L438.8,356.6 L435.6,355.0 L432.4,356.6 L429.2,355.0 L426.0,356.6 L422.8,355.0 L419.6,356.6 L416.4,355.0 L413.2,356.6 L410.0,355.0 L406.8,356.6 L403.6,355.0 L401.2,354.0 L402.5,350.6 L401.2,347.2 L402.5,343.8 L401.2,340.4 L402.5,337.0 L401.2,333.6 L402.5,330.2 L401.2,326.8 L402.5,323.4 L401.2,320.0 L402.5,316.6 L401.2,313.2 L402.5,309.8 Z" fill="#23858d" stroke="#23858d" stroke-width="1.5"/>
<path d="M400.0,311.1 L401.6,311.0 L403.4,310.9 L405.2,310.6 L407.2,309.9M400.0,311.1 L402.5,312.4 L404.7,313.4 L406.5,313.8 L407.9,313.9M403.9,315.9 L404.9,315.6 L405.9,315.2 L406.9,314.7 L407.9,313.9M403.9,315.9 L405.0,316.4 L406.0,316.9 L407.3,317.3 L409.0,317.8M401.9,319.4 L403.8,319.1 L405.7,318.8 L407.4,318.4 L409.0,317.8M401.9,319.4 L403.4,320.2 L405.3,321.4 L407.1,322.8 L408.7,324.2M401.3,324.7 L402.9,324.7 L404.8,324.7 L406.7,324.6 L408.7,324.2M401.3,324.7 L402.9,326.5 L404.0,328.5 L405.0,330.3 L406.1,331.6M402.1,332.1 L403.0,332.2 L404.0,332.2 L405.0,332.1 L406.1,331.6M402.1,332.1 L403.5,334.0 L405.4,335.5 L407.6,336.5 L410.2,336.9M403.3,338.5 L405.2,338.3 L407.0,338.1 L408.7,337.7 L410.2,336.9M403.3,338.5 L405.3,339.4 L406.9,340.1 L408.1,340.4 L408.6,340.4M401.0,342.4 L402.8,342.1 L404.6,341.7 L406.6,341.2 L408.6,340.4M401.0,342.4 L401.7,342.9 L402.4,343.6 L403.5,344.4 L405.1,345.2M401.1,346.4 L402.0,346.2 L403.0,346.0 L404.0,345.7 L405.1,345.2M401.1,346.4 L403.5,347.6 L406.2,349.2 L409.0,350.9 L411.5,352.4M404.9,352.8 L406.8,352.8 L408.5,352.9 L410.1,352.8 L411.5,352.4M404.9,352.8 L406.3,354.7 L407.1,356.7 L407.3,358.3 L407.4,359.2M407.2,309.9 L409.1,310.1 L410.8,309.7 L412.1,309.0 L412.9,308.5M407.9,313.9 L409.0,312.7 L410.2,311.3 L411.5,309.9 L412.9,308.5M407.9,313.9 L409.1,313.6 L410.3,313.2 L411.9,313.0 L414.0,313.3M409.0,317.8 L410.4,316.8 L411.7,315.6 L412.9,314.4 L414.0,313.3M409.0,317.8 L411.0,318.2 L413.2,318.8 L415.3,319.6 L417.0,320.5M408.7,324.2 L410.8,323.4 L412.9,322.5 L415.0,321.5 L417.0,320.5M408.7,324.2 L409.8,325.4 L410.4,326.3 L410.9,326.9 L411.4,327.4M406.1,331.6 L407.2,330.8 L408.5,329.7 L409.9,328.5 L411.4,327.4M406.1,331.6 L407.5,332.3 L409.5,332.4 L412.0,332.1 L414.9,331.7M410.2,336.9 L411.5,335.8 L412.8,334.5 L413.9,333.0 L414.9,331.7M410.2,336.9 L412.6,336.7 L414.7,336.2 L416.1,335.6 L416.9,335.3M408.6,340.4 L410.7,339.3 L412.8,338.0 L414.9,336.6 L416.9,335.3M408.6,340.4 L408.9,340.3 L409.1,340.3 L409.6,340.5 L410.7,341.2M405.1,345.2 L406.3,344.3 L407.7,343.3 L409.1,342.2 L410.7,341.2M405.1,345.2 L407.5,346.0 L410.3,346.9 L413.3,347.8 L416.1,348.7M411.5,352.4 L412.8,351.7 L414.0,350.7 L415.1,349.7 L416.1,348.7M411.5,352.4 L413.4,353.5 L414.6,354.2 L415.3,354.5 L415.6,354.6M407.4,359.2 L409.5,358.3 L411.6,357.1 L413.6,355.8 L415.6,354.6M412.9,308.5 L414.5,307.4 L416.3,306.7 L418.1,306.2 L420.1,306.0M412.9,308.5 L413.7,308.5 L414.6,309.0 L416.0,310.2 L418.0,311.9M417.0,320.5 L419.0,319.8 L420.8,319.4 L422.5,319.3 L424.1,319.3M417.0,320.5 L418.1,321.7 L418.5,323.0 L418.7,324.2 L418.8,325.2M411.4,327.4 L413.1,326.5 L414.9,325.8 L416.8,325.5 L418.8,325.2M411.4,327.4 L412.3,327.7 L413.9,328.0 L416.2,328.4 L419.0,328.8M416.9,335.3 L418.8,334.3 L420.6,333.7 L422.2,333.3 L423.8,333.2M416.9,335.3 L417.2,335.6 L417.3,336.5 L417.6,338.1 L418.4,340.0M410.7,341.2 L412.5,340.5 L414.3,340.1 L416.3,339.9 L418.4,340.0M410.7,341.2 L412.5,342.3 L414.9,343.9 L417.6,345.6 L420.2,347.2M415.6,354.6 L417.4,353.5 L419.2,352.8 L420.7,352.3 L422.2,352.0M415.6,354.6 L416.0,354.5 L416.7,354.6 L417.9,354.9 L419.6,355.5M420.1,306.0 L420.3,307.0 L420.7,308.2 L421.5,309.5 L423.0,310.7M418.0,311.9 L419.1,311.9 L420.3,311.8 L421.6,311.4 L423.0,310.7M424.1,319.3 L425.6,321.0 L426.5,322.2 L426.9,322.7 L427.1,322.7M418.8,325.2 L420.9,325.0 L423.0,324.5 L425.1,323.8 L427.1,322.7M418.8,325.2 L419.3,326.0 L420.3,326.3 L422.0,326.3 L424.3,326.1M419.0,328.8 L420.1,328.5 L421.3,328.0 L422.7,327.2 L424.3,326.1M423.8,333.2 L424.5,334.6 L425.0,336.2 L425.7,337.7 L426.6,338.9M418.4,340.0 L420.4,340.1 L422.5,340.0 L424.6,339.6 L426.6,338.9M418.4,340.0 L419.7,342.0 L421.6,343.7 L423.7,344.8 L425.7,345.3M420.2,347.2 L421.4,347.1 L422.7,346.8 L424.1,346.2 L425.7,345.3M422.2,352.0 L423.1,352.5 L424.2,352.8 L425.8,353.0 L427.7,353.1M419.6,355.5 L421.6,355.2 L423.7,354.8 L425.8,354.1 L427.7,353.1M423.0,310.7 L424.6,309.7 L426.4,308.7 L428.2,307.8 L430.2,307.0M423.0,310.7 L425.2,311.6 L427.8,312.4 L430.6,313.0 L433.1,313.4M429.1,317.9 L430.1,316.8 L431.1,315.6 L432.1,314.4 L433.1,313.4M429.1,317.9 L431.1,318.2 L432.5,318.0 L433.5,317.6 L434.2,317.3M427.1,322.7 L429.1,321.3 L430.9,319.9 L432.6,318.5 L434.2,317.3M427.1,322.7 L427.5,322.2 L428.4,321.5 L429.9,321.1 L431.7,321.3M424.3,326.1 L425.9,324.8 L427.7,323.5 L429.7,322.2 L431.7,321.3M424.3,326.1 L426.7,326.0 L429.0,326.1 L431.0,326.6 L432.5,327.7M428.5,331.5 L429.5,330.5 L430.5,329.4 L431.5,328.4 L432.5,327.7M428.5,331.5 L429.8,332.3 L430.8,333.1 L432.0,334.1 L433.5,335.1M426.6,338.9 L428.5,337.9 L430.3,336.9 L432.0,335.9 L433.5,335.1M426.6,338.9 L428.0,339.7 L429.8,340.2 L431.7,340.3 L433.4,340.4M425.7,345.3 L427.5,344.1 L429.4,342.7 L431.3,341.5 L433.4,340.4M425.7,345.3 L427.5,345.2 L428.8,344.7 L429.8,344.2 L430.8,343.9M426.7,349.2 L427.7,347.8 L428.7,346.4 L429.7,345.0 L430.8,343.9M426.7,349.2 L428.1,348.7 L429.7,348.2 L431.8,348.2 L434.3,348.7M427.7,353.1 L429.6,351.9 L431.3,350.7 L432.9,349.5 L434.3,348.7M427.7,353.1 L429.8,353.4 L431.6,353.8 L432.9,354.7 L433.8,355.9M430.2,307.0 L431.9,308.4 L433.9,309.8 L436.1,311.0 L438.2,311.8M433.1,313.4 L434.2,312.8 L435.4,312.4 L436.7,312.1 L438.2,311.8M433.1,313.4 L435.2,313.9 L436.8,314.3 L438.0,314.8 L439.2,315.3M434.2,317.3 L435.7,316.5 L437.0,316.0 L438.1,315.6 L439.2,315.3M434.2,317.3 L435.1,317.4 L436.4,317.8 L438.0,318.8 L440.0,320.1M431.7,321.3 L433.8,320.6 L435.8,320.3 L437.9,320.2 L440.0,320.1M431.7,321.3 L433.6,322.0 L435.4,323.5 L436.8,325.3 L437.9,327.3M432.5,327.7 L433.7,327.3 L434.9,327.1 L436.3,327.2 L437.9,327.3M432.5,327.7 L433.8,329.2 L435.0,330.9 L436.4,332.7 L438.2,334.1M433.5,335.1 L434.8,334.6 L436.1,334.3 L437.2,334.3 L438.2,334.1M433.5,335.1 L435.4,336.1 L437.6,337.1 L439.8,337.9 L441.6,338.4M433.4,340.4 L435.5,339.6 L437.6,339.1 L439.6,338.8 L441.6,338.4M433.4,340.4 L434.7,340.5 L435.5,340.8 L436.0,341.3 L436.4,342.1M430.8,343.9 L432.0,343.1 L433.3,342.6 L434.8,342.3 L436.4,342.1M430.8,343.9 L432.0,344.1 L433.8,344.9 L436.1,346.3 L438.9,348.0M434.3,348.7 L435.6,348.2 L436.8,348.0 L437.9,347.9 L438.9,348.0M434.3,348.7 L436.9,349.9 L439.1,351.6 L440.9,353.5 L441.9,355.5M433.8,355.9 L435.9,355.5 L437.9,355.4 L440.0,355.4 L441.9,355.5M438.2,311.8 L439.8,311.4 L441.5,310.6 L443.4,309.5 L445.3,308.1M438.2,311.8 L439.8,312.2 L441.1,312.3 L442.1,312.0 L443.2,311.7M439.2,315.3 L440.2,314.8 L441.2,314.1 L442.2,313.0 L443.2,311.7M439.2,315.3 L440.6,315.8 L442.4,316.4 L444.6,317.0 L447.1,317.6M440.0,320.1 L441.9,319.9 L443.8,319.4 L445.5,318.6 L447.1,317.6M440.0,320.1 L441.9,321.6 L443.5,323.0 L444.7,324.2 L445.3,325.1M437.9,327.3 L439.5,327.2 L441.3,326.8 L443.3,326.1 L445.3,325.1M437.9,327.3 L438.6,329.1 L439.4,330.3 L440.5,331.0 L442.3,331.0M438.2,334.1 L439.2,333.8 L440.2,333.2 L441.2,332.2 L442.3,331.0M438.2,334.1 L440.6,335.1 L443.3,335.4 L446.1,335.2 L448.5,334.6M441.6,338.4 L443.5,337.9 L445.3,337.1 L447.0,336.0 L448.5,334.6M441.6,338.4 L443.0,338.7 L443.7,338.8 L444.0,338.8 L444.0,338.9M436.4,342.1 L438.1,341.7 L440.0,341.0 L442.0,340.1 L444.0,338.9M436.4,342.1 L437.1,343.0 L438.4,343.9 L440.4,344.9 L443.0,345.8M438.9,348.0 L439.9,347.8 L440.8,347.4 L441.9,346.7 L443.0,345.8M438.9,348.0 L441.8,349.7 L444.6,351.2 L446.9,352.4 L448.5,353.0M441.9,355.5 L443.8,355.3 L445.5,354.9 L447.1,354.1 L448.5,353.0M441.9,355.5 L442.4,357.0 L442.5,357.9 L442.7,358.1 L443.3,357.8M445.3,308.1 L446.5,307.5 L447.2,307.0 L447.7,307.0 L448.3,307.6M443.2,311.7 L444.3,310.4 L445.5,309.2 L446.8,308.2 L448.3,307.6M443.2,311.7 L444.7,311.7 L446.7,312.1 L449.2,313.0 L452.1,314.5M447.1,317.6 L448.5,316.6 L449.8,315.6 L451.0,314.9 L452.1,314.5M447.1,317.6 L449.5,318.4 L451.5,319.4 L452.8,320.5 L453.6,321.7M445.3,325.1 L447.3,324.0 L449.4,323.0 L451.5,322.2 L453.6,321.7M445.3,325.1 L445.5,325.7 L445.8,326.0 L446.4,326.2 L447.6,326.4M442.3,331.0 L443.4,329.6 L444.7,328.3 L446.0,327.3 L447.6,326.4M442.3,331.0 L444.6,330.6 L447.5,330.1 L450.5,329.8 L453.3,329.9M448.5,334.6 L449.9,333.2 L451.1,331.8 L452.2,330.7 L453.3,329.9M448.5,334.6 L450.3,334.1 L451.5,333.9 L452.0,334.2 L452.3,335.3M444.0,338.9 L446.1,337.7 L448.2,336.6 L450.3,335.8 L452.3,335.3M444.0,338.9 L444.3,339.3 L445.1,340.0 L446.5,341.2 L448.5,342.7M443.0,345.8 L444.1,344.8 L445.5,343.8 L446.9,343.1 L448.5,342.7M443.0,345.8 L445.8,346.7 L448.7,347.5 L451.2,348.3 L453.1,349.1M448.5,353.0 L449.8,351.8 L451.0,350.7 L452.1,349.7 L453.1,349.1M448.5,353.0 L449.5,353.2 L450.1,353.1 L450.6,353.0 L451.4,353.0M443.3,357.8 L445.4,356.3 L447.4,355.0 L449.5,353.8 L451.4,353.0M448.3,307.6 L449.9,307.3 L451.6,307.2 L453.5,307.2 L455.4,307.0M448.3,307.6 L449.3,308.9 L451.0,310.6 L453.3,312.6 L456.1,314.4M453.6,321.7 L455.5,321.4 L457.4,321.3 L459.1,321.1 L460.7,320.8M453.6,321.7 L453.8,322.8 L453.9,323.7 L454.2,324.4 L455.0,324.7M447.6,326.4 L449.2,325.9 L451.0,325.6 L453.0,325.2 L455.0,324.7M447.6,326.4 L449.5,326.8 L451.9,327.2 L454.6,327.9 L457.3,328.6M452.3,335.3 L454.2,335.1 L456.0,335.1 L457.6,335.1 L459.1,335.0M452.3,335.3 L452.6,336.9 L453.3,338.8 L454.5,340.8 L456.2,342.4M448.5,342.7 L450.3,342.6 L452.1,342.6 L454.1,342.6 L456.2,342.4M448.5,342.7 L450.9,344.3 L453.3,345.9 L455.4,347.1 L457.2,347.8M451.4,353.0 L453.3,352.4 L455.0,352.1 L456.6,351.7 L458.0,351.2M451.4,353.0 L452.7,353.3 L454.3,353.9 L456.2,354.9 L458.0,356.0" stroke-width="2.6"/>
<path d="M434.4,315.8 L434.3,316.6 L433.6,317.5 L432.3,318.7 L430.6,320.2 L428.7,321.7 L426.7,322.8 L424.8,323.1 L422.9,322.4 L421.1,321.2 L419.0,319.9 L416.7,319.0 L414.2,318.2 L412.0,317.5 L410.3,316.8 L409.2,316.1 L408.7,315.4 L408.6,314.6 L409.0,313.7 L409.7,312.5 L410.7,311.0 L412.1,309.5 L413.8,308.4 L415.5,308.1 L417.3,308.8 L419.2,310.0 L421.5,311.3 L424.2,312.2 L427.1,313.0 L430.0,313.7 L432.3,314.4 L433.8,315.1 L434.4,315.8M432.6,331.4 L432.6,332.7 L432.1,334.0 L431.1,335.2 L429.6,336.4 L427.6,337.4 L425.5,337.8 L423.4,337.2 L421.6,336.0 L420.1,334.9 L418.8,334.4 L417.4,334.7 L415.7,335.3 L413.5,335.8 L411.3,335.9 L409.4,335.4 L408.1,334.5 L407.4,333.5 L407.4,332.4 L408.0,331.2 L409.1,329.9 L410.6,328.6 L412.4,327.6 L414.5,327.3 L416.9,327.3 L419.6,327.4 L422.6,327.2 L425.6,326.8 L428.3,326.8 L430.3,327.3 L431.6,328.5 L432.3,329.9 L432.6,331.4M431.3,346.0 L431.9,347.0 L432.0,348.1 L431.4,349.3 L430.0,350.6 L428.1,352.0 L425.7,353.0 L423.2,353.5 L420.8,353.6 L418.8,353.5 L417.5,353.6 L416.5,353.7 L415.6,353.6 L414.3,352.8 L412.6,351.6 L410.7,350.1 L409.0,348.7 L407.8,347.4 L407.3,346.1 L407.7,344.9 L408.8,343.7 L410.5,342.7 L412.6,342.3 L415.2,342.8 L418.1,344.1 L421.1,345.5 L424.0,346.2 L426.4,346.1 L428.0,345.5 L429.1,345.0 L429.8,344.9 L430.6,345.3 L431.3,346.0M469.8,314.4 L469.7,315.0 L469.1,315.7 L468.0,316.6 L466.4,317.6 L464.4,319.0 L462.2,320.7 L460.1,322.1 L458.3,322.8 L456.8,322.5 L455.5,321.5 L454.2,320.2 L452.5,319.0 L450.4,317.7 L448.3,316.5 L446.5,315.4 L445.2,314.2 L444.6,313.0 L444.6,311.8 L445.1,310.5 L446.2,309.4 L447.6,308.7 L449.4,308.8 L451.4,309.7 L453.8,310.9 L456.5,311.8 L459.5,312.2 L462.6,312.4 L465.4,312.6 L467.5,312.8 L468.8,313.3 L469.5,313.8 L469.8,314.4M468.5,332.8 L469.0,333.9 L469.0,334.7 L468.3,335.5 L466.9,336.5 L464.9,337.6 L462.4,338.6 L459.9,339.1 L457.5,338.5 L455.6,337.0 L454.2,335.2 L453.3,333.9 L452.4,333.3 L451.3,333.2 L449.7,333.2 L447.8,333.1 L446.1,332.6 L445.0,331.8 L444.5,330.7 L444.8,329.5 L445.8,328.2 L447.4,327.2 L449.5,326.7 L452.1,326.6 L455.0,326.6 L458.0,326.3 L460.9,326.0 L463.4,326.1 L465.1,326.9 L466.2,328.3 L467.0,330.0 L467.8,331.5 L468.5,332.8M468.8,346.5 L469.9,347.7 L470.3,348.7 L469.8,349.5 L468.4,350.3 L466.5,351.2 L464.0,352.2 L461.2,352.9 L458.3,353.1 L455.6,352.8 L453.4,352.5 L451.9,352.4 L451.0,352.5 L450.4,352.4 L449.7,351.8 L448.6,350.8 L447.3,349.5 L446.2,348.1 L445.7,346.7 L445.9,345.5 L447.0,344.5 L448.7,344.0 L451.0,344.3 L453.7,345.1 L456.4,345.7 L459.0,345.5 L461.1,344.6 L462.5,343.5 L463.5,342.9 L464.5,343.1 L465.7,343.9 L467.3,345.1 L468.8,346.5" stroke-width="2.6"/>
<path d="M425.6,329.1 A3.4,3.7 -39 1 1 430.5,329.9M409.0,332.7 A4.8,1.8 -10 1 1 410.1,336.1M443.7,317.4 A3.7,2.0 1 1 1 436.9,317.6M439.8,326.4 A5.2,2.0 -17 1 1 439.8,329.8M427.1,313.1 A3.8,2.2 -18 0 1 426.2,317.8M450.9,347.5 A3.2,2.6 -1 1 1 445.1,345.8M452.6,315.7 A4.8,2.0 6 0 1 445.2,317.5M403.5,317.9 A4.6,1.8 -33 1 1 408.1,317.0M428.4,329.9 A4.9,2.0 6 1 1 428.4,326.3M452.1,317.1 A4.7,3.1 -28 1 1 455.4,313.2M448.4,315.9 A5.1,3.9 -21 0 1 457.8,315.6M423.1,342.9 A4.8,3.5 -33 1 1 428.2,338.3M438.0,330.9 A4.2,4.0 6 1 1 433.9,326.1M425.5,330.0 A3.6,2.7 -14 1 1 421.2,326.8M408.9,342.1 A3.1,3.5 25 1 1 411.7,346.8M414.9,340.5 A4.3,2.3 37 1 1 422.1,343.4M445.3,328.5 A5.0,2.1 27 0 1 445.5,324.1M457.6,320.1 A5.8,4.0 9 0 1 446.3,319.7M420.2,329.9 A4.8,3.9 -12 1 1 416.2,323.6M410.2,318.8 A4.7,3.3 -35 1 1 417.3,315.6M443.5,325.5 A5.7,2.1 17 1 1 436.9,325.4M426.9,315.0 A3.1,2.9 -26 0 1 432.8,315.7M440.0,320.3 A3.0,2.1 -3 1 1 445.3,322.1M419.3,335.0 A5.8,3.0 35 1 1 418.6,330.6M450.8,337.0 A4.6,3.0 33 1 1 448.7,330.9M428.9,322.1 A5.2,3.4 -32 1 1 432.9,327.3M431.4,335.0 A3.2,3.1 -10 0 1 427.8,340.1M440.4,341.9 A4.9,3.7 -37 1 1 447.4,343.9M439.2,330.4 A3.2,2.2 9 0 1 435.9,326.6M420.6,331.4 A4.6,1.8 22 1 1 427.3,332.9" stroke-width="2.3" stroke="#48b2b9"/>
<path d="M433.0,351.6 l1.8,1.6 l-1.8,1.6 l-1.8,-1.6 Z" fill="#e8f4f5" stroke="none"/>
<path d="M440.5,352.0 l1.8,1.6 l-1.8,1.6 l-1.8,-1.6 Z" fill="#e8f4f5" stroke="none"/>
<path d="M447.0,351.4 l1.8,1.6 l-1.8,1.6 l-1.8,-1.6 Z" fill="#e8f4f5" stroke="none"/>
<path d="M426.0,351.0 l1.8,1.6 l-1.8,1.6 l-1.8,-1.6 Z" fill="#e8f4f5" stroke="none"/>
</g>
<g>
<path d="M458.8,306.3 L513.8,306.3 L511.6,309.3 L514.8,313.5 L511.6,317.7 L514.8,321.9 L511.6,326.1 L514.8,330.3 L511.6,334.5 L514.8,338.7 L511.6,342.9 L514.8,347.1 L511.6,351.3 L513.8,357.3 L458.8,357.3 Z" fill="#222528"/>
<path d="M467.9,338.6 q5.5,-0.2 7.3,1.8M491.7,331.3 q5.0,-2.6 6.0,-0.8M483.5,313.1 q6.2,-2.7 7.4,-2.7M498.7,340.6 q6.5,1.2 6.2,-1.0M480.2,315.0 q6.8,-1.3 6.9,1.9M466.4,348.3 q4.8,0.5 8.1,-0.1M468.7,311.8 q6.5,-2.7 10.7,-1.7M497.6,347.0 q6.0,2.6 9.5,1.4M466.3,329.8 q6.3,-3.0 11.5,2.3M477.0,325.3 q4.8,-1.1 12.0,-0.7M462.8,314.1 q5.9,4.9 9.0,-0.1M482.2,341.0 q3.9,1.1 9.3,0.7M468.5,317.3 q4.4,4.3 8.1,0.6M473.1,314.5 q3.3,3.1 10.7,-0.8M487.1,338.0 q6.6,4.6 8.4,2.9M497.4,334.5 q6.5,-0.1 8.3,-1.5M494.2,317.0 q3.3,3.1 10.6,-0.1M492.8,312.4 q4.0,-2.1 8.5,-2.0M464.4,324.2 q6.6,4.8 10.5,-0.1M471.1,349.6 q5.1,2.3 6.2,-1.7M492.8,342.9 q6.5,1.0 8.6,0.5M493.2,322.9 q5.1,-2.2 10.6,-2.9M487.2,349.4 q3.1,0.9 9.9,2.1M483.4,320.8 q4.6,4.6 11.4,-2.2" fill="none" stroke="#404346" stroke-width="1.5" stroke-linecap="round"/>
<circle cx="477.8" cy="314.1" r="0.9" fill="#a9acaf"/>
<circle cx="484.7" cy="314.1" r="0.9" fill="#a9acaf"/>
<circle cx="499.9" cy="313.3" r="0.9" fill="#a9acaf"/>
<circle cx="468.4" cy="326.8" r="0.9" fill="#a9acaf"/>
<circle cx="486.7" cy="330.6" r="0.9" fill="#a9acaf"/>
<circle cx="472.7" cy="342.1" r="0.9" fill="#a9acaf"/>
<circle cx="496.9" cy="345.9" r="0.9" fill="#a9acaf"/>
<circle cx="466.3" cy="354.8" r="0.9" fill="#a9acaf"/>
<circle cx="477.8" cy="356.1" r="0.9" fill="#a9acaf"/>
<circle cx="491.8" cy="355.6" r="0.9" fill="#a9acaf"/>
<circle cx="505.8" cy="323.0" r="0.9" fill="#a9acaf"/>
<rect x="458.8" y="305.7" width="57.5" height="1.3" fill="#111"/>
<rect x="459.8" y="356.1" width="57.5" height="2.4" fill="#151515"/>
</g>
</g>
</g>
</svg>
</body></html>
